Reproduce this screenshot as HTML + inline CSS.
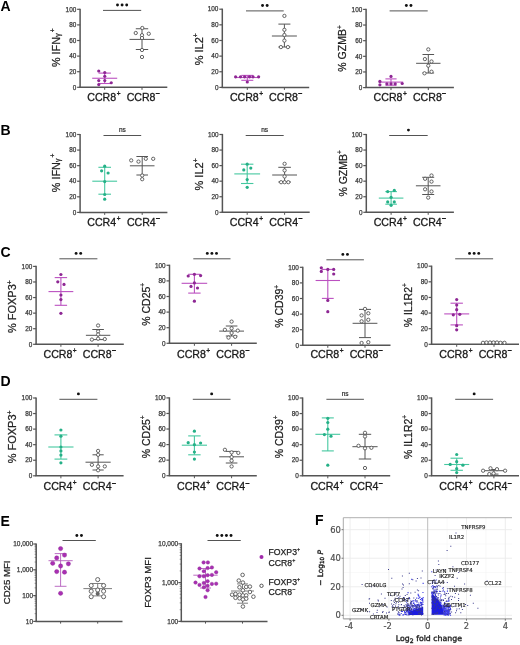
<!DOCTYPE html>
<html><head><meta charset="utf-8"><title>Figure</title>
<style>html,body{margin:0;padding:0;background:#fff;}svg{display:block;}</style>
</head><body>
<svg width="520" height="645" viewBox="0 0 520 645">
<rect width="520" height="645" fill="#fff"/>
<text x="0.6" y="11" font-size="14" text-anchor="start" fill="#000" font-weight="bold" font-family="'Liberation Sans', Arial, sans-serif" >A</text>
<text x="0.6" y="135.4" font-size="14" text-anchor="start" fill="#000" font-weight="bold" font-family="'Liberation Sans', Arial, sans-serif" >B</text>
<text x="0.6" y="257.4" font-size="14" text-anchor="start" fill="#000" font-weight="bold" font-family="'Liberation Sans', Arial, sans-serif" >C</text>
<text x="0.6" y="386.4" font-size="14" text-anchor="start" fill="#000" font-weight="bold" font-family="'Liberation Sans', Arial, sans-serif" >D</text>
<text x="0.6" y="526.4" font-size="14" text-anchor="start" fill="#000" font-weight="bold" font-family="'Liberation Sans', Arial, sans-serif" >E</text>
<text x="315" y="525.2" font-size="14" text-anchor="start" fill="#000" font-weight="bold" font-family="'Liberation Sans', Arial, sans-serif" >F</text>
<line x1="80.1" y1="8.7" x2="80.1" y2="87.3" stroke="#555555" stroke-width="1.5"/>
<line x1="79.35" y1="87.3" x2="167.3" y2="87.3" stroke="#555555" stroke-width="1.5"/>
<line x1="77.1" y1="87.3" x2="80.1" y2="87.3" stroke="#555555" stroke-width="1.2"/>
<text x="76.25" y="89.5" font-size="6.4" text-anchor="end" fill="#3a3a3a" font-weight="normal" font-family="'Liberation Sans', Arial, sans-serif" stroke="#3a3a3a" stroke-width="0.25">0</text>
<line x1="77.1" y1="71.7" x2="80.1" y2="71.7" stroke="#555555" stroke-width="1.2"/>
<text x="76.25" y="73.9" font-size="6.4" text-anchor="end" fill="#3a3a3a" font-weight="normal" font-family="'Liberation Sans', Arial, sans-serif" stroke="#3a3a3a" stroke-width="0.25">20</text>
<line x1="77.1" y1="56.1" x2="80.1" y2="56.1" stroke="#555555" stroke-width="1.2"/>
<text x="76.25" y="58.3" font-size="6.4" text-anchor="end" fill="#3a3a3a" font-weight="normal" font-family="'Liberation Sans', Arial, sans-serif" stroke="#3a3a3a" stroke-width="0.25">40</text>
<line x1="77.1" y1="40.5" x2="80.1" y2="40.5" stroke="#555555" stroke-width="1.2"/>
<text x="76.25" y="42.7" font-size="6.4" text-anchor="end" fill="#3a3a3a" font-weight="normal" font-family="'Liberation Sans', Arial, sans-serif" stroke="#3a3a3a" stroke-width="0.25">60</text>
<line x1="77.1" y1="24.9" x2="80.1" y2="24.9" stroke="#555555" stroke-width="1.2"/>
<text x="76.25" y="27.1" font-size="6.4" text-anchor="end" fill="#3a3a3a" font-weight="normal" font-family="'Liberation Sans', Arial, sans-serif" stroke="#3a3a3a" stroke-width="0.25">80</text>
<line x1="77.1" y1="9.3" x2="80.1" y2="9.3" stroke="#555555" stroke-width="1.2"/>
<text x="76.25" y="11.5" font-size="6.4" text-anchor="end" fill="#3a3a3a" font-weight="normal" font-family="'Liberation Sans', Arial, sans-serif" stroke="#3a3a3a" stroke-width="0.25">100</text>
<line x1="104.7" y1="87.3" x2="104.7" y2="89.8" stroke="#555555" stroke-width="1"/>
<line x1="142" y1="87.3" x2="142" y2="89.8" stroke="#555555" stroke-width="1"/>
<text x="103.9" y="100.6" font-size="10.6" text-anchor="middle" fill="#1a1a1a" stroke="#1a1a1a" stroke-width="0.3" font-family="'Liberation Sans', Arial, sans-serif">CCR8<tspan font-size="6.57" dx="0.5" dy="-5.0">+</tspan></text>
<text x="143.3" y="100.6" font-size="10.6" text-anchor="middle" fill="#1a1a1a" stroke="#1a1a1a" stroke-width="0.3" font-family="'Liberation Sans', Arial, sans-serif">CCR8<tspan font-size="7.53" dx="0" dy="-4.6">−</tspan></text>
<text transform="translate(60.4,47.7) rotate(-90)" font-size="10.8" text-anchor="middle" fill="#222" stroke="#222" stroke-width="0.25" font-family="'Liberation Sans', Arial, sans-serif">% IFN<tspan font-size="6.91" dx="0.2" dy="-0.3">γ</tspan><tspan font-size="6.70" dx="1.1" dy="-5.0">+</tspan></text>
<line x1="103" y1="10.4" x2="141.2" y2="10.4" stroke="#4a4a4a" stroke-width="0.95"/>
<circle cx="117.5" cy="5" r="1.45" fill="#111"/>
<circle cx="122.1" cy="5" r="1.45" fill="#111"/>
<circle cx="126.7" cy="5" r="1.45" fill="#111"/>
<line x1="104.7" y1="73.1" x2="104.7" y2="83.5" stroke="#bb50c0" stroke-width="1.1"/>
<line x1="92.2" y1="78.25" x2="117.2" y2="78.25" stroke="#bb50c0" stroke-width="1.1"/>
<line x1="98.5" y1="73.1" x2="110.9" y2="73.1" stroke="#bb50c0" stroke-width="1.1"/>
<line x1="98.5" y1="83.5" x2="110.9" y2="83.5" stroke="#bb50c0" stroke-width="1.1"/>
<line x1="142" y1="28.75" x2="142" y2="49.5" stroke="#555" stroke-width="1.0"/>
<line x1="129.5" y1="39.4" x2="154.5" y2="39.4" stroke="#555" stroke-width="1.0"/>
<line x1="135.8" y1="28.75" x2="148.2" y2="28.75" stroke="#555" stroke-width="1.0"/>
<line x1="135.8" y1="49.5" x2="148.2" y2="49.5" stroke="#555" stroke-width="1.0"/>
<circle cx="98.75" cy="71" r="1.6" fill="#8e2794"/>
<circle cx="104.75" cy="72.5" r="1.6" fill="#8e2794"/>
<circle cx="104.75" cy="76.25" r="1.6" fill="#8e2794"/>
<circle cx="98.75" cy="80.6" r="1.6" fill="#8e2794"/>
<circle cx="104.75" cy="80.6" r="1.6" fill="#8e2794"/>
<circle cx="98.75" cy="84.6" r="1.6" fill="#8e2794"/>
<circle cx="111.25" cy="82.75" r="1.6" fill="#8e2794"/>
<circle cx="142.3" cy="28" r="1.6500000000000001" fill="white" stroke="#555555" stroke-width="0.9"/>
<circle cx="135.75" cy="33" r="1.6500000000000001" fill="white" stroke="#555555" stroke-width="0.9"/>
<circle cx="142" cy="35.2" r="1.6500000000000001" fill="white" stroke="#555555" stroke-width="0.9"/>
<circle cx="148.75" cy="33.75" r="1.6500000000000001" fill="white" stroke="#555555" stroke-width="0.9"/>
<circle cx="142" cy="38" r="1.6500000000000001" fill="white" stroke="#555555" stroke-width="0.9"/>
<circle cx="142" cy="50" r="1.6500000000000001" fill="white" stroke="#555555" stroke-width="0.9"/>
<circle cx="142" cy="57" r="1.6500000000000001" fill="white" stroke="#555555" stroke-width="0.9"/>
<line x1="222.3" y1="8.6" x2="222.3" y2="87.4" stroke="#555555" stroke-width="1.5"/>
<line x1="221.55" y1="87.4" x2="309.2" y2="87.4" stroke="#555555" stroke-width="1.5"/>
<line x1="219.3" y1="87.4" x2="222.3" y2="87.4" stroke="#555555" stroke-width="1.2"/>
<text x="218.45" y="89.6" font-size="6.4" text-anchor="end" fill="#3a3a3a" font-weight="normal" font-family="'Liberation Sans', Arial, sans-serif" stroke="#3a3a3a" stroke-width="0.25">0</text>
<line x1="219.3" y1="71.76" x2="222.3" y2="71.76" stroke="#555555" stroke-width="1.2"/>
<text x="218.45" y="73.96" font-size="6.4" text-anchor="end" fill="#3a3a3a" font-weight="normal" font-family="'Liberation Sans', Arial, sans-serif" stroke="#3a3a3a" stroke-width="0.25">20</text>
<line x1="219.3" y1="56.12" x2="222.3" y2="56.12" stroke="#555555" stroke-width="1.2"/>
<text x="218.45" y="58.32" font-size="6.4" text-anchor="end" fill="#3a3a3a" font-weight="normal" font-family="'Liberation Sans', Arial, sans-serif" stroke="#3a3a3a" stroke-width="0.25">40</text>
<line x1="219.3" y1="40.48" x2="222.3" y2="40.48" stroke="#555555" stroke-width="1.2"/>
<text x="218.45" y="42.68" font-size="6.4" text-anchor="end" fill="#3a3a3a" font-weight="normal" font-family="'Liberation Sans', Arial, sans-serif" stroke="#3a3a3a" stroke-width="0.25">60</text>
<line x1="219.3" y1="24.84" x2="222.3" y2="24.84" stroke="#555555" stroke-width="1.2"/>
<text x="218.45" y="27.04" font-size="6.4" text-anchor="end" fill="#3a3a3a" font-weight="normal" font-family="'Liberation Sans', Arial, sans-serif" stroke="#3a3a3a" stroke-width="0.25">80</text>
<line x1="219.3" y1="9.2" x2="222.3" y2="9.2" stroke="#555555" stroke-width="1.2"/>
<text x="218.45" y="11.4" font-size="6.4" text-anchor="end" fill="#3a3a3a" font-weight="normal" font-family="'Liberation Sans', Arial, sans-serif" stroke="#3a3a3a" stroke-width="0.25">100</text>
<line x1="247.3" y1="87.4" x2="247.3" y2="89.9" stroke="#555555" stroke-width="1"/>
<line x1="284.4" y1="87.4" x2="284.4" y2="89.9" stroke="#555555" stroke-width="1"/>
<text x="246.5" y="100.6" font-size="10.6" text-anchor="middle" fill="#1a1a1a" stroke="#1a1a1a" stroke-width="0.3" font-family="'Liberation Sans', Arial, sans-serif">CCR8<tspan font-size="6.57" dx="0.5" dy="-5.0">+</tspan></text>
<text x="285.7" y="100.6" font-size="10.6" text-anchor="middle" fill="#1a1a1a" stroke="#1a1a1a" stroke-width="0.3" font-family="'Liberation Sans', Arial, sans-serif">CCR8<tspan font-size="7.53" dx="0" dy="-4.6">−</tspan></text>
<text transform="translate(202.6,49.3) rotate(-90)" font-size="11" text-anchor="middle" fill="#222" stroke="#222" stroke-width="0.25" font-family="'Liberation Sans', Arial, sans-serif">% IL2<tspan font-size="6.82" dy="-4.5">+</tspan></text>
<line x1="246" y1="10.9" x2="283.7" y2="10.9" stroke="#4a4a4a" stroke-width="0.95"/>
<circle cx="262.55" cy="5.5" r="1.45" fill="#111"/>
<circle cx="267.15" cy="5.5" r="1.45" fill="#111"/>
<line x1="247.3" y1="75.4" x2="247.3" y2="80.3" stroke="#bb50c0" stroke-width="1.1"/>
<line x1="234.8" y1="77.5" x2="259.8" y2="77.5" stroke="#bb50c0" stroke-width="1.1"/>
<line x1="241.3" y1="75.4" x2="253.3" y2="75.4" stroke="#bb50c0" stroke-width="1.1"/>
<line x1="241.3" y1="80.3" x2="253.3" y2="80.3" stroke="#bb50c0" stroke-width="1.1"/>
<line x1="284.4" y1="24.1" x2="284.4" y2="47" stroke="#555" stroke-width="1.0"/>
<line x1="271.9" y1="36" x2="296.9" y2="36" stroke="#555" stroke-width="1.0"/>
<line x1="278.4" y1="24.1" x2="290.4" y2="24.1" stroke="#555" stroke-width="1.0"/>
<line x1="278.4" y1="47" x2="290.4" y2="47" stroke="#555" stroke-width="1.0"/>
<circle cx="235.6" cy="76.8" r="1.6" fill="#8e2794"/>
<circle cx="240.5" cy="76.8" r="1.6" fill="#8e2794"/>
<circle cx="244.6" cy="76.8" r="1.6" fill="#8e2794"/>
<circle cx="249.5" cy="76.8" r="1.6" fill="#8e2794"/>
<circle cx="253" cy="76.8" r="1.6" fill="#8e2794"/>
<circle cx="258.6" cy="76.8" r="1.6" fill="#8e2794"/>
<circle cx="247.3" cy="82" r="1.6" fill="#8e2794"/>
<circle cx="284.4" cy="15.9" r="1.6500000000000001" fill="white" stroke="#555555" stroke-width="0.9"/>
<circle cx="284.4" cy="29.8" r="1.6500000000000001" fill="white" stroke="#555555" stroke-width="0.9"/>
<circle cx="284.4" cy="35" r="1.6500000000000001" fill="white" stroke="#555555" stroke-width="0.9"/>
<circle cx="284.4" cy="40.6" r="1.6500000000000001" fill="white" stroke="#555555" stroke-width="0.9"/>
<circle cx="280.9" cy="47.1" r="1.6500000000000001" fill="white" stroke="#555555" stroke-width="0.9"/>
<circle cx="287.9" cy="47.1" r="1.6500000000000001" fill="white" stroke="#555555" stroke-width="0.9"/>
<line x1="366.1" y1="8.8" x2="366.1" y2="87.6" stroke="#555555" stroke-width="1.5"/>
<line x1="365.35" y1="87.6" x2="453.9" y2="87.6" stroke="#555555" stroke-width="1.5"/>
<line x1="363.1" y1="87.6" x2="366.1" y2="87.6" stroke="#555555" stroke-width="1.2"/>
<text x="362.25" y="89.8" font-size="6.4" text-anchor="end" fill="#3a3a3a" font-weight="normal" font-family="'Liberation Sans', Arial, sans-serif" stroke="#3a3a3a" stroke-width="0.25">0</text>
<line x1="363.1" y1="71.96" x2="366.1" y2="71.96" stroke="#555555" stroke-width="1.2"/>
<text x="362.25" y="74.16" font-size="6.4" text-anchor="end" fill="#3a3a3a" font-weight="normal" font-family="'Liberation Sans', Arial, sans-serif" stroke="#3a3a3a" stroke-width="0.25">20</text>
<line x1="363.1" y1="56.32" x2="366.1" y2="56.32" stroke="#555555" stroke-width="1.2"/>
<text x="362.25" y="58.52" font-size="6.4" text-anchor="end" fill="#3a3a3a" font-weight="normal" font-family="'Liberation Sans', Arial, sans-serif" stroke="#3a3a3a" stroke-width="0.25">40</text>
<line x1="363.1" y1="40.68" x2="366.1" y2="40.68" stroke="#555555" stroke-width="1.2"/>
<text x="362.25" y="42.88" font-size="6.4" text-anchor="end" fill="#3a3a3a" font-weight="normal" font-family="'Liberation Sans', Arial, sans-serif" stroke="#3a3a3a" stroke-width="0.25">60</text>
<line x1="363.1" y1="25.04" x2="366.1" y2="25.04" stroke="#555555" stroke-width="1.2"/>
<text x="362.25" y="27.24" font-size="6.4" text-anchor="end" fill="#3a3a3a" font-weight="normal" font-family="'Liberation Sans', Arial, sans-serif" stroke="#3a3a3a" stroke-width="0.25">80</text>
<line x1="363.1" y1="9.4" x2="366.1" y2="9.4" stroke="#555555" stroke-width="1.2"/>
<text x="362.25" y="11.6" font-size="6.4" text-anchor="end" fill="#3a3a3a" font-weight="normal" font-family="'Liberation Sans', Arial, sans-serif" stroke="#3a3a3a" stroke-width="0.25">100</text>
<line x1="391" y1="87.6" x2="391" y2="90.1" stroke="#555555" stroke-width="1"/>
<line x1="428.3" y1="87.6" x2="428.3" y2="90.1" stroke="#555555" stroke-width="1"/>
<text x="390.2" y="100.6" font-size="10.6" text-anchor="middle" fill="#1a1a1a" stroke="#1a1a1a" stroke-width="0.3" font-family="'Liberation Sans', Arial, sans-serif">CCR8<tspan font-size="6.57" dx="0.5" dy="-5.0">+</tspan></text>
<text x="429.6" y="100.6" font-size="10.6" text-anchor="middle" fill="#1a1a1a" stroke="#1a1a1a" stroke-width="0.3" font-family="'Liberation Sans', Arial, sans-serif">CCR8<tspan font-size="7.53" dx="0" dy="-4.6">−</tspan></text>
<text transform="translate(346.4,48.5) rotate(-90)" font-size="10.5" text-anchor="middle" fill="#222" stroke="#222" stroke-width="0.25" font-family="'Liberation Sans', Arial, sans-serif">% GZMB<tspan font-size="6.51" dy="-4.5">+</tspan></text>
<line x1="389.6" y1="10.9" x2="427.7" y2="10.9" stroke="#4a4a4a" stroke-width="0.95"/>
<circle cx="406.35" cy="5.5" r="1.45" fill="#111"/>
<circle cx="410.95" cy="5.5" r="1.45" fill="#111"/>
<line x1="391" y1="78.9" x2="391" y2="85.2" stroke="#bb50c0" stroke-width="1.1"/>
<line x1="378.8" y1="82.1" x2="403.2" y2="82.1" stroke="#bb50c0" stroke-width="1.1"/>
<line x1="385.4" y1="78.9" x2="396.6" y2="78.9" stroke="#bb50c0" stroke-width="1.1"/>
<line x1="385.4" y1="85.2" x2="396.6" y2="85.2" stroke="#bb50c0" stroke-width="1.1"/>
<line x1="428.3" y1="54.5" x2="428.3" y2="73" stroke="#555" stroke-width="1.0"/>
<line x1="416.1" y1="63.3" x2="440.5" y2="63.3" stroke="#555" stroke-width="1.0"/>
<line x1="422.5" y1="54.5" x2="434.1" y2="54.5" stroke="#555" stroke-width="1.0"/>
<line x1="422.5" y1="73" x2="434.1" y2="73" stroke="#555" stroke-width="1.0"/>
<circle cx="391" cy="76.4" r="1.6" fill="#8e2794"/>
<circle cx="379.9" cy="81.4" r="1.6" fill="#8e2794"/>
<circle cx="379.9" cy="84.8" r="1.6" fill="#8e2794"/>
<circle cx="386.9" cy="83.8" r="1.6" fill="#8e2794"/>
<circle cx="391" cy="83.8" r="1.6" fill="#8e2794"/>
<circle cx="395.2" cy="83.8" r="1.6" fill="#8e2794"/>
<circle cx="402.2" cy="83.5" r="1.6" fill="#8e2794"/>
<circle cx="428.3" cy="49.4" r="1.6500000000000001" fill="white" stroke="#555555" stroke-width="0.9"/>
<circle cx="424.9" cy="59.1" r="1.6500000000000001" fill="white" stroke="#555555" stroke-width="0.9"/>
<circle cx="431.5" cy="61.5" r="1.6500000000000001" fill="white" stroke="#555555" stroke-width="0.9"/>
<circle cx="428.3" cy="65.7" r="1.6500000000000001" fill="white" stroke="#555555" stroke-width="0.9"/>
<circle cx="424.5" cy="73.3" r="1.6500000000000001" fill="white" stroke="#555555" stroke-width="0.9"/>
<circle cx="431.5" cy="71.7" r="1.6500000000000001" fill="white" stroke="#555555" stroke-width="0.9"/>
<line x1="80.1" y1="133.9" x2="80.1" y2="212.4" stroke="#555555" stroke-width="1.5"/>
<line x1="79.35" y1="212.4" x2="167.4" y2="212.4" stroke="#555555" stroke-width="1.5"/>
<line x1="77.1" y1="212.4" x2="80.1" y2="212.4" stroke="#555555" stroke-width="1.2"/>
<text x="76.25" y="214.6" font-size="6.4" text-anchor="end" fill="#3a3a3a" font-weight="normal" font-family="'Liberation Sans', Arial, sans-serif" stroke="#3a3a3a" stroke-width="0.25">0</text>
<line x1="77.1" y1="196.82" x2="80.1" y2="196.82" stroke="#555555" stroke-width="1.2"/>
<text x="76.25" y="199.02" font-size="6.4" text-anchor="end" fill="#3a3a3a" font-weight="normal" font-family="'Liberation Sans', Arial, sans-serif" stroke="#3a3a3a" stroke-width="0.25">20</text>
<line x1="77.1" y1="181.24" x2="80.1" y2="181.24" stroke="#555555" stroke-width="1.2"/>
<text x="76.25" y="183.44" font-size="6.4" text-anchor="end" fill="#3a3a3a" font-weight="normal" font-family="'Liberation Sans', Arial, sans-serif" stroke="#3a3a3a" stroke-width="0.25">40</text>
<line x1="77.1" y1="165.66" x2="80.1" y2="165.66" stroke="#555555" stroke-width="1.2"/>
<text x="76.25" y="167.86" font-size="6.4" text-anchor="end" fill="#3a3a3a" font-weight="normal" font-family="'Liberation Sans', Arial, sans-serif" stroke="#3a3a3a" stroke-width="0.25">60</text>
<line x1="77.1" y1="150.08" x2="80.1" y2="150.08" stroke="#555555" stroke-width="1.2"/>
<text x="76.25" y="152.28" font-size="6.4" text-anchor="end" fill="#3a3a3a" font-weight="normal" font-family="'Liberation Sans', Arial, sans-serif" stroke="#3a3a3a" stroke-width="0.25">80</text>
<line x1="77.1" y1="134.5" x2="80.1" y2="134.5" stroke="#555555" stroke-width="1.2"/>
<text x="76.25" y="136.7" font-size="6.4" text-anchor="end" fill="#3a3a3a" font-weight="normal" font-family="'Liberation Sans', Arial, sans-serif" stroke="#3a3a3a" stroke-width="0.25">100</text>
<line x1="104.7" y1="212.4" x2="104.7" y2="214.9" stroke="#555555" stroke-width="1"/>
<line x1="142.2" y1="212.4" x2="142.2" y2="214.9" stroke="#555555" stroke-width="1"/>
<text x="103.9" y="225.8" font-size="10.6" text-anchor="middle" fill="#1a1a1a" stroke="#1a1a1a" stroke-width="0.3" font-family="'Liberation Sans', Arial, sans-serif">CCR4<tspan font-size="6.57" dx="0.5" dy="-5.0">+</tspan></text>
<text x="143.5" y="225.8" font-size="10.6" text-anchor="middle" fill="#1a1a1a" stroke="#1a1a1a" stroke-width="0.3" font-family="'Liberation Sans', Arial, sans-serif">CCR4<tspan font-size="7.53" dx="0" dy="-4.6">−</tspan></text>
<text transform="translate(60.4,172.85) rotate(-90)" font-size="10.8" text-anchor="middle" fill="#222" stroke="#222" stroke-width="0.25" font-family="'Liberation Sans', Arial, sans-serif">% IFN<tspan font-size="6.91" dx="0.2" dy="-0.3">γ</tspan><tspan font-size="6.70" dx="1.1" dy="-5.0">+</tspan></text>
<line x1="103.5" y1="135.5" x2="141.2" y2="135.5" stroke="#4a4a4a" stroke-width="0.95"/>
<text x="122.35" y="132" font-size="6.5" text-anchor="middle" fill="#2a2a2a" font-weight="normal" font-family="'Liberation Sans', Arial, sans-serif" stroke="#2a2a2a" stroke-width="0.2">ns</text>
<line x1="104.7" y1="167.3" x2="104.7" y2="194.2" stroke="#45c8a0" stroke-width="1.1"/>
<line x1="92.3" y1="181.2" x2="117.1" y2="181.2" stroke="#45c8a0" stroke-width="1.1"/>
<line x1="98.4" y1="167.3" x2="111" y2="167.3" stroke="#45c8a0" stroke-width="1.1"/>
<line x1="98.4" y1="194.2" x2="111" y2="194.2" stroke="#45c8a0" stroke-width="1.1"/>
<line x1="142.2" y1="156.5" x2="142.2" y2="175" stroke="#555" stroke-width="1.0"/>
<line x1="129.9" y1="165.8" x2="154.5" y2="165.8" stroke="#555" stroke-width="1.0"/>
<line x1="136.4" y1="156.5" x2="148" y2="156.5" stroke="#555" stroke-width="1.0"/>
<line x1="136.4" y1="175" x2="148" y2="175" stroke="#555" stroke-width="1.0"/>
<circle cx="104.7" cy="166.2" r="1.6" fill="#25b087"/>
<circle cx="101.6" cy="170.8" r="1.6" fill="#25b087"/>
<circle cx="108.1" cy="173" r="1.6" fill="#25b087"/>
<circle cx="104.7" cy="181.6" r="1.6" fill="#25b087"/>
<circle cx="104.7" cy="194.5" r="1.6" fill="#25b087"/>
<circle cx="104.7" cy="199.2" r="1.6" fill="#25b087"/>
<circle cx="131.2" cy="160.4" r="1.6500000000000001" fill="white" stroke="#555555" stroke-width="0.9"/>
<circle cx="138.5" cy="161.6" r="1.6500000000000001" fill="white" stroke="#555555" stroke-width="0.9"/>
<circle cx="145.8" cy="158.8" r="1.6500000000000001" fill="white" stroke="#555555" stroke-width="0.9"/>
<circle cx="153.2" cy="158.8" r="1.6500000000000001" fill="white" stroke="#555555" stroke-width="0.9"/>
<circle cx="142.2" cy="175.5" r="1.6500000000000001" fill="white" stroke="#555555" stroke-width="0.9"/>
<circle cx="142.2" cy="179.2" r="1.6500000000000001" fill="white" stroke="#555555" stroke-width="0.9"/>
<line x1="222.4" y1="133.9" x2="222.4" y2="212.3" stroke="#555555" stroke-width="1.5"/>
<line x1="221.65" y1="212.3" x2="309.7" y2="212.3" stroke="#555555" stroke-width="1.5"/>
<line x1="219.4" y1="212.3" x2="222.4" y2="212.3" stroke="#555555" stroke-width="1.2"/>
<text x="218.55" y="214.5" font-size="6.4" text-anchor="end" fill="#3a3a3a" font-weight="normal" font-family="'Liberation Sans', Arial, sans-serif" stroke="#3a3a3a" stroke-width="0.25">0</text>
<line x1="219.4" y1="196.74" x2="222.4" y2="196.74" stroke="#555555" stroke-width="1.2"/>
<text x="218.55" y="198.94" font-size="6.4" text-anchor="end" fill="#3a3a3a" font-weight="normal" font-family="'Liberation Sans', Arial, sans-serif" stroke="#3a3a3a" stroke-width="0.25">20</text>
<line x1="219.4" y1="181.18" x2="222.4" y2="181.18" stroke="#555555" stroke-width="1.2"/>
<text x="218.55" y="183.38" font-size="6.4" text-anchor="end" fill="#3a3a3a" font-weight="normal" font-family="'Liberation Sans', Arial, sans-serif" stroke="#3a3a3a" stroke-width="0.25">40</text>
<line x1="219.4" y1="165.62" x2="222.4" y2="165.62" stroke="#555555" stroke-width="1.2"/>
<text x="218.55" y="167.82" font-size="6.4" text-anchor="end" fill="#3a3a3a" font-weight="normal" font-family="'Liberation Sans', Arial, sans-serif" stroke="#3a3a3a" stroke-width="0.25">60</text>
<line x1="219.4" y1="150.06" x2="222.4" y2="150.06" stroke="#555555" stroke-width="1.2"/>
<text x="218.55" y="152.26" font-size="6.4" text-anchor="end" fill="#3a3a3a" font-weight="normal" font-family="'Liberation Sans', Arial, sans-serif" stroke="#3a3a3a" stroke-width="0.25">80</text>
<line x1="219.4" y1="134.5" x2="222.4" y2="134.5" stroke="#555555" stroke-width="1.2"/>
<text x="218.55" y="136.7" font-size="6.4" text-anchor="end" fill="#3a3a3a" font-weight="normal" font-family="'Liberation Sans', Arial, sans-serif" stroke="#3a3a3a" stroke-width="0.25">100</text>
<line x1="247.2" y1="212.3" x2="247.2" y2="214.8" stroke="#555555" stroke-width="1"/>
<line x1="284.6" y1="212.3" x2="284.6" y2="214.8" stroke="#555555" stroke-width="1"/>
<text x="246.4" y="225.8" font-size="10.6" text-anchor="middle" fill="#1a1a1a" stroke="#1a1a1a" stroke-width="0.3" font-family="'Liberation Sans', Arial, sans-serif">CCR4<tspan font-size="6.57" dx="0.5" dy="-5.0">+</tspan></text>
<text x="285.9" y="225.8" font-size="10.6" text-anchor="middle" fill="#1a1a1a" stroke="#1a1a1a" stroke-width="0.3" font-family="'Liberation Sans', Arial, sans-serif">CCR4<tspan font-size="7.53" dx="0" dy="-4.6">−</tspan></text>
<text transform="translate(202.7,174.4) rotate(-90)" font-size="11" text-anchor="middle" fill="#222" stroke="#222" stroke-width="0.25" font-family="'Liberation Sans', Arial, sans-serif">% IL2<tspan font-size="6.82" dy="-4.5">+</tspan></text>
<line x1="245.7" y1="135.5" x2="283.7" y2="135.5" stroke="#4a4a4a" stroke-width="0.95"/>
<text x="264.7" y="132" font-size="6.5" text-anchor="middle" fill="#2a2a2a" font-weight="normal" font-family="'Liberation Sans', Arial, sans-serif" stroke="#2a2a2a" stroke-width="0.2">ns</text>
<line x1="247.2" y1="164.2" x2="247.2" y2="183.5" stroke="#45c8a0" stroke-width="1.1"/>
<line x1="234.3" y1="173.9" x2="260.1" y2="173.9" stroke="#45c8a0" stroke-width="1.1"/>
<line x1="241" y1="164.2" x2="253.4" y2="164.2" stroke="#45c8a0" stroke-width="1.1"/>
<line x1="241" y1="183.5" x2="253.4" y2="183.5" stroke="#45c8a0" stroke-width="1.1"/>
<line x1="284.6" y1="167.3" x2="284.6" y2="182" stroke="#555" stroke-width="1.0"/>
<line x1="272.2" y1="175" x2="297" y2="175" stroke="#555" stroke-width="1.0"/>
<line x1="278.3" y1="167.3" x2="290.9" y2="167.3" stroke="#555" stroke-width="1.0"/>
<line x1="278.3" y1="182" x2="290.9" y2="182" stroke="#555" stroke-width="1.0"/>
<circle cx="247.2" cy="164.2" r="1.6" fill="#25b087"/>
<circle cx="243.8" cy="169.9" r="1.6" fill="#25b087"/>
<circle cx="250.8" cy="168.1" r="1.6" fill="#25b087"/>
<circle cx="247.2" cy="179.6" r="1.6" fill="#25b087"/>
<circle cx="247.2" cy="187.3" r="1.6" fill="#25b087"/>
<circle cx="284.6" cy="163.8" r="1.6500000000000001" fill="white" stroke="#555555" stroke-width="0.9"/>
<circle cx="284.6" cy="170.4" r="1.6500000000000001" fill="white" stroke="#555555" stroke-width="0.9"/>
<circle cx="284.6" cy="176.5" r="1.6500000000000001" fill="white" stroke="#555555" stroke-width="0.9"/>
<circle cx="281.1" cy="182.2" r="1.6500000000000001" fill="white" stroke="#555555" stroke-width="0.9"/>
<circle cx="288.3" cy="182.2" r="1.6500000000000001" fill="white" stroke="#555555" stroke-width="0.9"/>
<circle cx="284.6" cy="182.2" r="1.6500000000000001" fill="white" stroke="#555555" stroke-width="0.9"/>
<line x1="366.3" y1="133.9" x2="366.3" y2="212.3" stroke="#555555" stroke-width="1.5"/>
<line x1="365.55" y1="212.3" x2="453.9" y2="212.3" stroke="#555555" stroke-width="1.5"/>
<line x1="363.3" y1="212.3" x2="366.3" y2="212.3" stroke="#555555" stroke-width="1.2"/>
<text x="362.45" y="214.5" font-size="6.4" text-anchor="end" fill="#3a3a3a" font-weight="normal" font-family="'Liberation Sans', Arial, sans-serif" stroke="#3a3a3a" stroke-width="0.25">0</text>
<line x1="363.3" y1="196.74" x2="366.3" y2="196.74" stroke="#555555" stroke-width="1.2"/>
<text x="362.45" y="198.94" font-size="6.4" text-anchor="end" fill="#3a3a3a" font-weight="normal" font-family="'Liberation Sans', Arial, sans-serif" stroke="#3a3a3a" stroke-width="0.25">20</text>
<line x1="363.3" y1="181.18" x2="366.3" y2="181.18" stroke="#555555" stroke-width="1.2"/>
<text x="362.45" y="183.38" font-size="6.4" text-anchor="end" fill="#3a3a3a" font-weight="normal" font-family="'Liberation Sans', Arial, sans-serif" stroke="#3a3a3a" stroke-width="0.25">40</text>
<line x1="363.3" y1="165.62" x2="366.3" y2="165.62" stroke="#555555" stroke-width="1.2"/>
<text x="362.45" y="167.82" font-size="6.4" text-anchor="end" fill="#3a3a3a" font-weight="normal" font-family="'Liberation Sans', Arial, sans-serif" stroke="#3a3a3a" stroke-width="0.25">60</text>
<line x1="363.3" y1="150.06" x2="366.3" y2="150.06" stroke="#555555" stroke-width="1.2"/>
<text x="362.45" y="152.26" font-size="6.4" text-anchor="end" fill="#3a3a3a" font-weight="normal" font-family="'Liberation Sans', Arial, sans-serif" stroke="#3a3a3a" stroke-width="0.25">80</text>
<line x1="363.3" y1="134.5" x2="366.3" y2="134.5" stroke="#555555" stroke-width="1.2"/>
<text x="362.45" y="136.7" font-size="6.4" text-anchor="end" fill="#3a3a3a" font-weight="normal" font-family="'Liberation Sans', Arial, sans-serif" stroke="#3a3a3a" stroke-width="0.25">100</text>
<line x1="391.1" y1="212.3" x2="391.1" y2="214.8" stroke="#555555" stroke-width="1"/>
<line x1="428.2" y1="212.3" x2="428.2" y2="214.8" stroke="#555555" stroke-width="1"/>
<text x="390.3" y="225.8" font-size="10.6" text-anchor="middle" fill="#1a1a1a" stroke="#1a1a1a" stroke-width="0.3" font-family="'Liberation Sans', Arial, sans-serif">CCR4<tspan font-size="6.57" dx="0.5" dy="-5.0">+</tspan></text>
<text x="429.5" y="225.8" font-size="10.6" text-anchor="middle" fill="#1a1a1a" stroke="#1a1a1a" stroke-width="0.3" font-family="'Liberation Sans', Arial, sans-serif">CCR4<tspan font-size="7.53" dx="0" dy="-4.6">−</tspan></text>
<text transform="translate(346.6,173.4) rotate(-90)" font-size="10.5" text-anchor="middle" fill="#222" stroke="#222" stroke-width="0.25" font-family="'Liberation Sans', Arial, sans-serif">% GZMB<tspan font-size="6.51" dy="-4.5">+</tspan></text>
<line x1="389.2" y1="135.5" x2="427.7" y2="135.5" stroke="#4a4a4a" stroke-width="0.95"/>
<circle cx="408.45" cy="130.1" r="1.45" fill="#111"/>
<line x1="391.1" y1="191.6" x2="391.1" y2="204.2" stroke="#45c8a0" stroke-width="1.1"/>
<line x1="378.8" y1="198.1" x2="403.4" y2="198.1" stroke="#45c8a0" stroke-width="1.1"/>
<line x1="385.3" y1="191.6" x2="396.9" y2="191.6" stroke="#45c8a0" stroke-width="1.1"/>
<line x1="385.3" y1="204.2" x2="396.9" y2="204.2" stroke="#45c8a0" stroke-width="1.1"/>
<line x1="428.2" y1="177.3" x2="428.2" y2="194.5" stroke="#555" stroke-width="1.0"/>
<line x1="415.9" y1="185.8" x2="440.5" y2="185.8" stroke="#555" stroke-width="1.0"/>
<line x1="422.2" y1="177.3" x2="434.2" y2="177.3" stroke="#555" stroke-width="1.0"/>
<line x1="422.2" y1="194.5" x2="434.2" y2="194.5" stroke="#555" stroke-width="1.0"/>
<circle cx="387.7" cy="191.6" r="1.6" fill="#25b087"/>
<circle cx="394.3" cy="190.4" r="1.6" fill="#25b087"/>
<circle cx="391.1" cy="197.3" r="1.6" fill="#25b087"/>
<circle cx="387.7" cy="201.9" r="1.6" fill="#25b087"/>
<circle cx="394.3" cy="201.9" r="1.6" fill="#25b087"/>
<circle cx="391.1" cy="205.3" r="1.6" fill="#25b087"/>
<circle cx="431.5" cy="175.5" r="1.6500000000000001" fill="white" stroke="#555555" stroke-width="0.9"/>
<circle cx="425.1" cy="178.8" r="1.6500000000000001" fill="white" stroke="#555555" stroke-width="0.9"/>
<circle cx="431.5" cy="181.6" r="1.6500000000000001" fill="white" stroke="#555555" stroke-width="0.9"/>
<circle cx="425.1" cy="189.3" r="1.6500000000000001" fill="white" stroke="#555555" stroke-width="0.9"/>
<circle cx="431.5" cy="191.5" r="1.6500000000000001" fill="white" stroke="#555555" stroke-width="0.9"/>
<circle cx="428.2" cy="197.6" r="1.6500000000000001" fill="white" stroke="#555555" stroke-width="0.9"/>
<line x1="36.1" y1="265.8" x2="36.1" y2="344.3" stroke="#555555" stroke-width="1.5"/>
<line x1="35.35" y1="344.3" x2="123.8" y2="344.3" stroke="#555555" stroke-width="1.5"/>
<line x1="33.1" y1="344.3" x2="36.1" y2="344.3" stroke="#555555" stroke-width="1.2"/>
<text x="32.25" y="346.5" font-size="6.4" text-anchor="end" fill="#3a3a3a" font-weight="normal" font-family="'Liberation Sans', Arial, sans-serif" stroke="#3a3a3a" stroke-width="0.25">0</text>
<line x1="33.1" y1="328.72" x2="36.1" y2="328.72" stroke="#555555" stroke-width="1.2"/>
<text x="32.25" y="330.92" font-size="6.4" text-anchor="end" fill="#3a3a3a" font-weight="normal" font-family="'Liberation Sans', Arial, sans-serif" stroke="#3a3a3a" stroke-width="0.25">20</text>
<line x1="33.1" y1="313.14" x2="36.1" y2="313.14" stroke="#555555" stroke-width="1.2"/>
<text x="32.25" y="315.34" font-size="6.4" text-anchor="end" fill="#3a3a3a" font-weight="normal" font-family="'Liberation Sans', Arial, sans-serif" stroke="#3a3a3a" stroke-width="0.25">40</text>
<line x1="33.1" y1="297.56" x2="36.1" y2="297.56" stroke="#555555" stroke-width="1.2"/>
<text x="32.25" y="299.76" font-size="6.4" text-anchor="end" fill="#3a3a3a" font-weight="normal" font-family="'Liberation Sans', Arial, sans-serif" stroke="#3a3a3a" stroke-width="0.25">60</text>
<line x1="33.1" y1="281.98" x2="36.1" y2="281.98" stroke="#555555" stroke-width="1.2"/>
<text x="32.25" y="284.18" font-size="6.4" text-anchor="end" fill="#3a3a3a" font-weight="normal" font-family="'Liberation Sans', Arial, sans-serif" stroke="#3a3a3a" stroke-width="0.25">80</text>
<line x1="33.1" y1="266.4" x2="36.1" y2="266.4" stroke="#555555" stroke-width="1.2"/>
<text x="32.25" y="268.6" font-size="6.4" text-anchor="end" fill="#3a3a3a" font-weight="normal" font-family="'Liberation Sans', Arial, sans-serif" stroke="#3a3a3a" stroke-width="0.25">100</text>
<line x1="60.9" y1="344.3" x2="60.9" y2="346.8" stroke="#555555" stroke-width="1"/>
<line x1="98.1" y1="344.3" x2="98.1" y2="346.8" stroke="#555555" stroke-width="1"/>
<text x="60.1" y="357.9" font-size="10.6" text-anchor="middle" fill="#1a1a1a" stroke="#1a1a1a" stroke-width="0.3" font-family="'Liberation Sans', Arial, sans-serif">CCR8<tspan font-size="6.57" dx="0.5" dy="-5.0">+</tspan></text>
<text x="99.4" y="357.9" font-size="10.6" text-anchor="middle" fill="#1a1a1a" stroke="#1a1a1a" stroke-width="0.3" font-family="'Liberation Sans', Arial, sans-serif">CCR8<tspan font-size="7.53" dx="0" dy="-4.6">−</tspan></text>
<text transform="translate(16.4,306.65) rotate(-90)" font-size="11" text-anchor="middle" fill="#222" stroke="#222" stroke-width="0.25" font-family="'Liberation Sans', Arial, sans-serif">% FOXP3<tspan font-size="6.82" dy="-4.5">+</tspan></text>
<line x1="59.4" y1="258.8" x2="97.4" y2="258.8" stroke="#4a4a4a" stroke-width="0.95"/>
<circle cx="76.1" cy="253.4" r="1.45" fill="#111"/>
<circle cx="80.7" cy="253.4" r="1.45" fill="#111"/>
<line x1="60.9" y1="277.6" x2="60.9" y2="305.3" stroke="#bb50c0" stroke-width="1.1"/>
<line x1="48.5" y1="291.6" x2="73.3" y2="291.6" stroke="#bb50c0" stroke-width="1.1"/>
<line x1="54.7" y1="277.6" x2="67.1" y2="277.6" stroke="#bb50c0" stroke-width="1.1"/>
<line x1="54.7" y1="305.3" x2="67.1" y2="305.3" stroke="#bb50c0" stroke-width="1.1"/>
<line x1="98.1" y1="329.5" x2="98.1" y2="339.6" stroke="#555" stroke-width="1.0"/>
<line x1="85.9" y1="335.3" x2="110.3" y2="335.3" stroke="#555" stroke-width="1.0"/>
<line x1="92.3" y1="329.5" x2="103.9" y2="329.5" stroke="#555" stroke-width="1.0"/>
<line x1="92.3" y1="339.6" x2="103.9" y2="339.6" stroke="#555" stroke-width="1.0"/>
<circle cx="60.9" cy="274.5" r="1.6" fill="#8e2794"/>
<circle cx="57.8" cy="281.8" r="1.6" fill="#8e2794"/>
<circle cx="64" cy="284.4" r="1.6" fill="#8e2794"/>
<circle cx="60.9" cy="295" r="1.6" fill="#8e2794"/>
<circle cx="60.9" cy="299.6" r="1.6" fill="#8e2794"/>
<circle cx="60.9" cy="313.3" r="1.6" fill="#8e2794"/>
<circle cx="98.1" cy="325.5" r="1.6500000000000001" fill="white" stroke="#555555" stroke-width="0.9"/>
<circle cx="98.1" cy="331.4" r="1.6500000000000001" fill="white" stroke="#555555" stroke-width="0.9"/>
<circle cx="98.1" cy="334.5" r="1.6500000000000001" fill="white" stroke="#555555" stroke-width="0.9"/>
<circle cx="91.9" cy="339.6" r="1.6500000000000001" fill="white" stroke="#555555" stroke-width="0.9"/>
<circle cx="98.1" cy="338.7" r="1.6500000000000001" fill="white" stroke="#555555" stroke-width="0.9"/>
<circle cx="104.8" cy="339.1" r="1.6500000000000001" fill="white" stroke="#555555" stroke-width="0.9"/>
<line x1="169.5" y1="264.7" x2="169.5" y2="343.3" stroke="#555555" stroke-width="1.5"/>
<line x1="168.75" y1="343.3" x2="256.8" y2="343.3" stroke="#555555" stroke-width="1.5"/>
<line x1="166.5" y1="343.3" x2="169.5" y2="343.3" stroke="#555555" stroke-width="1.2"/>
<text x="165.65" y="345.5" font-size="6.4" text-anchor="end" fill="#3a3a3a" font-weight="normal" font-family="'Liberation Sans', Arial, sans-serif" stroke="#3a3a3a" stroke-width="0.25">0</text>
<line x1="166.5" y1="327.7" x2="169.5" y2="327.7" stroke="#555555" stroke-width="1.2"/>
<text x="165.65" y="329.9" font-size="6.4" text-anchor="end" fill="#3a3a3a" font-weight="normal" font-family="'Liberation Sans', Arial, sans-serif" stroke="#3a3a3a" stroke-width="0.25">20</text>
<line x1="166.5" y1="312.1" x2="169.5" y2="312.1" stroke="#555555" stroke-width="1.2"/>
<text x="165.65" y="314.3" font-size="6.4" text-anchor="end" fill="#3a3a3a" font-weight="normal" font-family="'Liberation Sans', Arial, sans-serif" stroke="#3a3a3a" stroke-width="0.25">40</text>
<line x1="166.5" y1="296.5" x2="169.5" y2="296.5" stroke="#555555" stroke-width="1.2"/>
<text x="165.65" y="298.7" font-size="6.4" text-anchor="end" fill="#3a3a3a" font-weight="normal" font-family="'Liberation Sans', Arial, sans-serif" stroke="#3a3a3a" stroke-width="0.25">60</text>
<line x1="166.5" y1="280.9" x2="169.5" y2="280.9" stroke="#555555" stroke-width="1.2"/>
<text x="165.65" y="283.1" font-size="6.4" text-anchor="end" fill="#3a3a3a" font-weight="normal" font-family="'Liberation Sans', Arial, sans-serif" stroke="#3a3a3a" stroke-width="0.25">80</text>
<line x1="166.5" y1="265.3" x2="169.5" y2="265.3" stroke="#555555" stroke-width="1.2"/>
<text x="165.65" y="267.5" font-size="6.4" text-anchor="end" fill="#3a3a3a" font-weight="normal" font-family="'Liberation Sans', Arial, sans-serif" stroke="#3a3a3a" stroke-width="0.25">100</text>
<line x1="194.4" y1="343.3" x2="194.4" y2="345.8" stroke="#555555" stroke-width="1"/>
<line x1="231.6" y1="343.3" x2="231.6" y2="345.8" stroke="#555555" stroke-width="1"/>
<text x="193.6" y="357.9" font-size="10.6" text-anchor="middle" fill="#1a1a1a" stroke="#1a1a1a" stroke-width="0.3" font-family="'Liberation Sans', Arial, sans-serif">CCR8<tspan font-size="6.57" dx="0.5" dy="-5.0">+</tspan></text>
<text x="232.9" y="357.9" font-size="10.6" text-anchor="middle" fill="#1a1a1a" stroke="#1a1a1a" stroke-width="0.3" font-family="'Liberation Sans', Arial, sans-serif">CCR8<tspan font-size="7.53" dx="0" dy="-4.6">−</tspan></text>
<text transform="translate(149.8,304.3) rotate(-90)" font-size="10.5" text-anchor="middle" fill="#222" stroke="#222" stroke-width="0.25" font-family="'Liberation Sans', Arial, sans-serif">% CD25<tspan font-size="6.51" dy="-4.5">+</tspan></text>
<line x1="193.3" y1="258.8" x2="230.5" y2="258.8" stroke="#4a4a4a" stroke-width="0.95"/>
<circle cx="207.3" cy="253.4" r="1.45" fill="#111"/>
<circle cx="211.9" cy="253.4" r="1.45" fill="#111"/>
<circle cx="216.5" cy="253.4" r="1.45" fill="#111"/>
<line x1="194.4" y1="274.3" x2="194.4" y2="293.1" stroke="#bb50c0" stroke-width="1.1"/>
<line x1="181.6" y1="283.3" x2="207.2" y2="283.3" stroke="#bb50c0" stroke-width="1.1"/>
<line x1="188.2" y1="274.3" x2="200.6" y2="274.3" stroke="#bb50c0" stroke-width="1.1"/>
<line x1="188.2" y1="293.1" x2="200.6" y2="293.1" stroke="#bb50c0" stroke-width="1.1"/>
<line x1="231.6" y1="326" x2="231.6" y2="336" stroke="#555" stroke-width="1.0"/>
<line x1="219.2" y1="331.1" x2="244" y2="331.1" stroke="#555" stroke-width="1.0"/>
<line x1="225.8" y1="326" x2="237.4" y2="326" stroke="#555" stroke-width="1.0"/>
<line x1="225.8" y1="336" x2="237.4" y2="336" stroke="#555" stroke-width="1.0"/>
<circle cx="188.2" cy="276" r="1.6" fill="#8e2794"/>
<circle cx="194.4" cy="274.3" r="1.6" fill="#8e2794"/>
<circle cx="200.6" cy="275.6" r="1.6" fill="#8e2794"/>
<circle cx="194.4" cy="282.9" r="1.6" fill="#8e2794"/>
<circle cx="191" cy="286.4" r="1.6" fill="#8e2794"/>
<circle cx="197.5" cy="288" r="1.6" fill="#8e2794"/>
<circle cx="194.4" cy="301.2" r="1.6" fill="#8e2794"/>
<circle cx="231.6" cy="321.6" r="1.6500000000000001" fill="white" stroke="#555555" stroke-width="0.9"/>
<circle cx="231.6" cy="328.3" r="1.6500000000000001" fill="white" stroke="#555555" stroke-width="0.9"/>
<circle cx="224.9" cy="329.8" r="1.6500000000000001" fill="white" stroke="#555555" stroke-width="0.9"/>
<circle cx="237.8" cy="330.6" r="1.6500000000000001" fill="white" stroke="#555555" stroke-width="0.9"/>
<circle cx="231.6" cy="333" r="1.6500000000000001" fill="white" stroke="#555555" stroke-width="0.9"/>
<circle cx="228.5" cy="337.6" r="1.6500000000000001" fill="white" stroke="#555555" stroke-width="0.9"/>
<circle cx="235.2" cy="336.8" r="1.6500000000000001" fill="white" stroke="#555555" stroke-width="0.9"/>
<line x1="302.8" y1="266.7" x2="302.8" y2="345.3" stroke="#555555" stroke-width="1.5"/>
<line x1="302.05" y1="345.3" x2="390.5" y2="345.3" stroke="#555555" stroke-width="1.5"/>
<line x1="299.8" y1="345.3" x2="302.8" y2="345.3" stroke="#555555" stroke-width="1.2"/>
<text x="298.95" y="347.5" font-size="6.4" text-anchor="end" fill="#3a3a3a" font-weight="normal" font-family="'Liberation Sans', Arial, sans-serif" stroke="#3a3a3a" stroke-width="0.25">0</text>
<line x1="299.8" y1="329.7" x2="302.8" y2="329.7" stroke="#555555" stroke-width="1.2"/>
<text x="298.95" y="331.9" font-size="6.4" text-anchor="end" fill="#3a3a3a" font-weight="normal" font-family="'Liberation Sans', Arial, sans-serif" stroke="#3a3a3a" stroke-width="0.25">20</text>
<line x1="299.8" y1="314.1" x2="302.8" y2="314.1" stroke="#555555" stroke-width="1.2"/>
<text x="298.95" y="316.3" font-size="6.4" text-anchor="end" fill="#3a3a3a" font-weight="normal" font-family="'Liberation Sans', Arial, sans-serif" stroke="#3a3a3a" stroke-width="0.25">40</text>
<line x1="299.8" y1="298.5" x2="302.8" y2="298.5" stroke="#555555" stroke-width="1.2"/>
<text x="298.95" y="300.7" font-size="6.4" text-anchor="end" fill="#3a3a3a" font-weight="normal" font-family="'Liberation Sans', Arial, sans-serif" stroke="#3a3a3a" stroke-width="0.25">60</text>
<line x1="299.8" y1="282.9" x2="302.8" y2="282.9" stroke="#555555" stroke-width="1.2"/>
<text x="298.95" y="285.1" font-size="6.4" text-anchor="end" fill="#3a3a3a" font-weight="normal" font-family="'Liberation Sans', Arial, sans-serif" stroke="#3a3a3a" stroke-width="0.25">80</text>
<line x1="299.8" y1="267.3" x2="302.8" y2="267.3" stroke="#555555" stroke-width="1.2"/>
<text x="298.95" y="269.5" font-size="6.4" text-anchor="end" fill="#3a3a3a" font-weight="normal" font-family="'Liberation Sans', Arial, sans-serif" stroke="#3a3a3a" stroke-width="0.25">100</text>
<line x1="327.8" y1="345.3" x2="327.8" y2="347.8" stroke="#555555" stroke-width="1"/>
<line x1="365" y1="345.3" x2="365" y2="347.8" stroke="#555555" stroke-width="1"/>
<text x="327" y="357.9" font-size="10.6" text-anchor="middle" fill="#1a1a1a" stroke="#1a1a1a" stroke-width="0.3" font-family="'Liberation Sans', Arial, sans-serif">CCR8<tspan font-size="6.57" dx="0.5" dy="-5.0">+</tspan></text>
<text x="366.3" y="357.9" font-size="10.6" text-anchor="middle" fill="#1a1a1a" stroke="#1a1a1a" stroke-width="0.3" font-family="'Liberation Sans', Arial, sans-serif">CCR8<tspan font-size="7.53" dx="0" dy="-4.6">−</tspan></text>
<text transform="translate(283.1,306.3) rotate(-90)" font-size="10.5" text-anchor="middle" fill="#222" stroke="#222" stroke-width="0.25" font-family="'Liberation Sans', Arial, sans-serif">% CD39<tspan font-size="6.51" dy="-4.5">+</tspan></text>
<line x1="326.4" y1="259.8" x2="363.9" y2="259.8" stroke="#4a4a4a" stroke-width="0.95"/>
<circle cx="342.85" cy="254.4" r="1.45" fill="#111"/>
<circle cx="347.45" cy="254.4" r="1.45" fill="#111"/>
<line x1="327.8" y1="269.4" x2="327.8" y2="298.4" stroke="#bb50c0" stroke-width="1.1"/>
<line x1="315.6" y1="280.5" x2="340" y2="280.5" stroke="#bb50c0" stroke-width="1.1"/>
<line x1="321.9" y1="269.4" x2="333.7" y2="269.4" stroke="#bb50c0" stroke-width="1.1"/>
<line x1="321.9" y1="298.4" x2="333.7" y2="298.4" stroke="#bb50c0" stroke-width="1.1"/>
<line x1="365" y1="309.4" x2="365" y2="337.6" stroke="#555" stroke-width="1.0"/>
<line x1="352.6" y1="323.3" x2="377.4" y2="323.3" stroke="#555" stroke-width="1.0"/>
<line x1="359" y1="309.4" x2="371" y2="309.4" stroke="#555" stroke-width="1.0"/>
<line x1="359" y1="337.6" x2="371" y2="337.6" stroke="#555" stroke-width="1.0"/>
<circle cx="321.3" cy="267.8" r="1.6" fill="#8e2794"/>
<circle cx="321.3" cy="271.4" r="1.6" fill="#8e2794"/>
<circle cx="327.8" cy="269.4" r="1.6" fill="#8e2794"/>
<circle cx="333.7" cy="269.4" r="1.6" fill="#8e2794"/>
<circle cx="333.7" cy="274" r="1.6" fill="#8e2794"/>
<circle cx="327.8" cy="300.4" r="1.6" fill="#8e2794"/>
<circle cx="327.8" cy="311.7" r="1.6" fill="#8e2794"/>
<circle cx="365" cy="308.9" r="1.6500000000000001" fill="white" stroke="#555555" stroke-width="0.9"/>
<circle cx="368.3" cy="313.3" r="1.6500000000000001" fill="white" stroke="#555555" stroke-width="0.9"/>
<circle cx="361.6" cy="315.4" r="1.6500000000000001" fill="white" stroke="#555555" stroke-width="0.9"/>
<circle cx="368.3" cy="319.8" r="1.6500000000000001" fill="white" stroke="#555555" stroke-width="0.9"/>
<circle cx="361.6" cy="321.3" r="1.6500000000000001" fill="white" stroke="#555555" stroke-width="0.9"/>
<circle cx="361.6" cy="343" r="1.6500000000000001" fill="white" stroke="#555555" stroke-width="0.9"/>
<circle cx="368.3" cy="342.2" r="1.6500000000000001" fill="white" stroke="#555555" stroke-width="0.9"/>
<line x1="431.6" y1="265.6" x2="431.6" y2="344.3" stroke="#555555" stroke-width="1.5"/>
<line x1="430.85" y1="344.3" x2="519" y2="344.3" stroke="#555555" stroke-width="1.5"/>
<line x1="428.6" y1="344.3" x2="431.6" y2="344.3" stroke="#555555" stroke-width="1.2"/>
<text x="427.75" y="346.5" font-size="6.4" text-anchor="end" fill="#3a3a3a" font-weight="normal" font-family="'Liberation Sans', Arial, sans-serif" stroke="#3a3a3a" stroke-width="0.25">0</text>
<line x1="428.6" y1="328.68" x2="431.6" y2="328.68" stroke="#555555" stroke-width="1.2"/>
<text x="427.75" y="330.88" font-size="6.4" text-anchor="end" fill="#3a3a3a" font-weight="normal" font-family="'Liberation Sans', Arial, sans-serif" stroke="#3a3a3a" stroke-width="0.25">20</text>
<line x1="428.6" y1="313.06" x2="431.6" y2="313.06" stroke="#555555" stroke-width="1.2"/>
<text x="427.75" y="315.26" font-size="6.4" text-anchor="end" fill="#3a3a3a" font-weight="normal" font-family="'Liberation Sans', Arial, sans-serif" stroke="#3a3a3a" stroke-width="0.25">40</text>
<line x1="428.6" y1="297.44" x2="431.6" y2="297.44" stroke="#555555" stroke-width="1.2"/>
<text x="427.75" y="299.64" font-size="6.4" text-anchor="end" fill="#3a3a3a" font-weight="normal" font-family="'Liberation Sans', Arial, sans-serif" stroke="#3a3a3a" stroke-width="0.25">60</text>
<line x1="428.6" y1="281.82" x2="431.6" y2="281.82" stroke="#555555" stroke-width="1.2"/>
<text x="427.75" y="284.02" font-size="6.4" text-anchor="end" fill="#3a3a3a" font-weight="normal" font-family="'Liberation Sans', Arial, sans-serif" stroke="#3a3a3a" stroke-width="0.25">80</text>
<line x1="428.6" y1="266.2" x2="431.6" y2="266.2" stroke="#555555" stroke-width="1.2"/>
<text x="427.75" y="268.4" font-size="6.4" text-anchor="end" fill="#3a3a3a" font-weight="normal" font-family="'Liberation Sans', Arial, sans-serif" stroke="#3a3a3a" stroke-width="0.25">100</text>
<line x1="456.7" y1="344.3" x2="456.7" y2="346.8" stroke="#555555" stroke-width="1"/>
<line x1="494" y1="344.3" x2="494" y2="346.8" stroke="#555555" stroke-width="1"/>
<text x="455.9" y="357.9" font-size="10.6" text-anchor="middle" fill="#1a1a1a" stroke="#1a1a1a" stroke-width="0.3" font-family="'Liberation Sans', Arial, sans-serif">CCR8<tspan font-size="6.57" dx="0.5" dy="-5.0">+</tspan></text>
<text x="495.3" y="357.9" font-size="10.6" text-anchor="middle" fill="#1a1a1a" stroke="#1a1a1a" stroke-width="0.3" font-family="'Liberation Sans', Arial, sans-serif">CCR8<tspan font-size="7.53" dx="0" dy="-4.6">−</tspan></text>
<text transform="translate(411.9,305.25) rotate(-90)" font-size="10.5" text-anchor="middle" fill="#222" stroke="#222" stroke-width="0.25" font-family="'Liberation Sans', Arial, sans-serif">% IL1R2<tspan font-size="6.51" dy="-4.5">+</tspan></text>
<line x1="455.2" y1="258.8" x2="493.1" y2="258.8" stroke="#4a4a4a" stroke-width="0.95"/>
<circle cx="469.55" cy="253.4" r="1.45" fill="#111"/>
<circle cx="474.15" cy="253.4" r="1.45" fill="#111"/>
<circle cx="478.75" cy="253.4" r="1.45" fill="#111"/>
<line x1="456.7" y1="303.2" x2="456.7" y2="324.9" stroke="#bb50c0" stroke-width="1.1"/>
<line x1="444.2" y1="313.9" x2="469.2" y2="313.9" stroke="#bb50c0" stroke-width="1.1"/>
<line x1="450.5" y1="303.2" x2="462.9" y2="303.2" stroke="#bb50c0" stroke-width="1.1"/>
<line x1="450.5" y1="324.9" x2="462.9" y2="324.9" stroke="#bb50c0" stroke-width="1.1"/>
<line x1="494" y1="341.8" x2="494" y2="343" stroke="#555" stroke-width="1.0"/>
<line x1="482.5" y1="342.3" x2="505.5" y2="342.3" stroke="#555" stroke-width="1.0"/>
<line x1="490" y1="341.8" x2="498" y2="341.8" stroke="#555" stroke-width="1.0"/>
<line x1="490" y1="343" x2="498" y2="343" stroke="#555" stroke-width="1.0"/>
<circle cx="456.7" cy="299.6" r="1.6" fill="#8e2794"/>
<circle cx="456.7" cy="305" r="1.6" fill="#8e2794"/>
<circle cx="456.7" cy="309.7" r="1.6" fill="#8e2794"/>
<circle cx="453.3" cy="314.8" r="1.6" fill="#8e2794"/>
<circle cx="459.8" cy="314.3" r="1.6" fill="#8e2794"/>
<circle cx="456.7" cy="325.7" r="1.6" fill="#8e2794"/>
<circle cx="456.7" cy="329.8" r="1.6" fill="#8e2794"/>
<circle cx="483" cy="342.8" r="1.6500000000000001" fill="white" stroke="#555555" stroke-width="0.9"/>
<circle cx="486.5" cy="342.5" r="1.6500000000000001" fill="white" stroke="#555555" stroke-width="0.9"/>
<circle cx="490" cy="342.5" r="1.6500000000000001" fill="white" stroke="#555555" stroke-width="0.9"/>
<circle cx="493.5" cy="342.5" r="1.6500000000000001" fill="white" stroke="#555555" stroke-width="0.9"/>
<circle cx="497" cy="342.5" r="1.6500000000000001" fill="white" stroke="#555555" stroke-width="0.9"/>
<circle cx="500.5" cy="342.8" r="1.6500000000000001" fill="white" stroke="#555555" stroke-width="0.9"/>
<circle cx="504.5" cy="342.8" r="1.6500000000000001" fill="white" stroke="#555555" stroke-width="0.9"/>
<line x1="36.1" y1="397.4" x2="36.1" y2="475.8" stroke="#555555" stroke-width="1.5"/>
<line x1="35.35" y1="475.8" x2="123.6" y2="475.8" stroke="#555555" stroke-width="1.5"/>
<line x1="33.1" y1="475.8" x2="36.1" y2="475.8" stroke="#555555" stroke-width="1.2"/>
<text x="32.25" y="478" font-size="6.4" text-anchor="end" fill="#3a3a3a" font-weight="normal" font-family="'Liberation Sans', Arial, sans-serif" stroke="#3a3a3a" stroke-width="0.25">0</text>
<line x1="33.1" y1="460.24" x2="36.1" y2="460.24" stroke="#555555" stroke-width="1.2"/>
<text x="32.25" y="462.44" font-size="6.4" text-anchor="end" fill="#3a3a3a" font-weight="normal" font-family="'Liberation Sans', Arial, sans-serif" stroke="#3a3a3a" stroke-width="0.25">20</text>
<line x1="33.1" y1="444.68" x2="36.1" y2="444.68" stroke="#555555" stroke-width="1.2"/>
<text x="32.25" y="446.88" font-size="6.4" text-anchor="end" fill="#3a3a3a" font-weight="normal" font-family="'Liberation Sans', Arial, sans-serif" stroke="#3a3a3a" stroke-width="0.25">40</text>
<line x1="33.1" y1="429.12" x2="36.1" y2="429.12" stroke="#555555" stroke-width="1.2"/>
<text x="32.25" y="431.32" font-size="6.4" text-anchor="end" fill="#3a3a3a" font-weight="normal" font-family="'Liberation Sans', Arial, sans-serif" stroke="#3a3a3a" stroke-width="0.25">60</text>
<line x1="33.1" y1="413.56" x2="36.1" y2="413.56" stroke="#555555" stroke-width="1.2"/>
<text x="32.25" y="415.76" font-size="6.4" text-anchor="end" fill="#3a3a3a" font-weight="normal" font-family="'Liberation Sans', Arial, sans-serif" stroke="#3a3a3a" stroke-width="0.25">80</text>
<line x1="33.1" y1="398" x2="36.1" y2="398" stroke="#555555" stroke-width="1.2"/>
<text x="32.25" y="400.2" font-size="6.4" text-anchor="end" fill="#3a3a3a" font-weight="normal" font-family="'Liberation Sans', Arial, sans-serif" stroke="#3a3a3a" stroke-width="0.25">100</text>
<line x1="60.9" y1="475.8" x2="60.9" y2="478.3" stroke="#555555" stroke-width="1"/>
<line x1="98.1" y1="475.8" x2="98.1" y2="478.3" stroke="#555555" stroke-width="1"/>
<text x="60.1" y="490.4" font-size="10.6" text-anchor="middle" fill="#1a1a1a" stroke="#1a1a1a" stroke-width="0.3" font-family="'Liberation Sans', Arial, sans-serif">CCR4<tspan font-size="6.57" dx="0.5" dy="-5.0">+</tspan></text>
<text x="99.4" y="490.4" font-size="10.6" text-anchor="middle" fill="#1a1a1a" stroke="#1a1a1a" stroke-width="0.3" font-family="'Liberation Sans', Arial, sans-serif">CCR4<tspan font-size="7.53" dx="0" dy="-4.6">−</tspan></text>
<text transform="translate(16.4,436.9) rotate(-90)" font-size="11" text-anchor="middle" fill="#222" stroke="#222" stroke-width="0.25" font-family="'Liberation Sans', Arial, sans-serif">% FOXP3<tspan font-size="6.82" dy="-4.5">+</tspan></text>
<line x1="59.4" y1="399.3" x2="97.4" y2="399.3" stroke="#4a4a4a" stroke-width="0.95"/>
<circle cx="78.4" cy="393.9" r="1.45" fill="#111"/>
<line x1="60.9" y1="434.9" x2="60.9" y2="459.1" stroke="#45c8a0" stroke-width="1.1"/>
<line x1="48.3" y1="447" x2="73.5" y2="447" stroke="#45c8a0" stroke-width="1.1"/>
<line x1="54.5" y1="434.9" x2="67.3" y2="434.9" stroke="#45c8a0" stroke-width="1.1"/>
<line x1="54.5" y1="459.1" x2="67.3" y2="459.1" stroke="#45c8a0" stroke-width="1.1"/>
<line x1="98.1" y1="454.8" x2="98.1" y2="470" stroke="#555" stroke-width="1.0"/>
<line x1="85.5" y1="462.2" x2="110.7" y2="462.2" stroke="#555" stroke-width="1.0"/>
<line x1="92.5" y1="454.8" x2="103.7" y2="454.8" stroke="#555" stroke-width="1.0"/>
<line x1="92.5" y1="470" x2="103.7" y2="470" stroke="#555" stroke-width="1.0"/>
<circle cx="60.9" cy="430" r="1.6" fill="#25b087"/>
<circle cx="60.9" cy="436.2" r="1.6" fill="#25b087"/>
<circle cx="60.9" cy="447" r="1.6" fill="#25b087"/>
<circle cx="60.9" cy="450.9" r="1.6" fill="#25b087"/>
<circle cx="60.9" cy="455.1" r="1.6" fill="#25b087"/>
<circle cx="60.9" cy="462.8" r="1.6" fill="#25b087"/>
<circle cx="98.1" cy="450.9" r="1.6500000000000001" fill="white" stroke="#555555" stroke-width="0.9"/>
<circle cx="98.1" cy="454.8" r="1.6500000000000001" fill="white" stroke="#555555" stroke-width="0.9"/>
<circle cx="91.9" cy="464.8" r="1.6500000000000001" fill="white" stroke="#555555" stroke-width="0.9"/>
<circle cx="104.8" cy="466.4" r="1.6500000000000001" fill="white" stroke="#555555" stroke-width="0.9"/>
<circle cx="98.1" cy="466.4" r="1.6500000000000001" fill="white" stroke="#555555" stroke-width="0.9"/>
<circle cx="98.1" cy="470.3" r="1.6500000000000001" fill="white" stroke="#555555" stroke-width="0.9"/>
<line x1="169.4" y1="397.3" x2="169.4" y2="475.7" stroke="#555555" stroke-width="1.5"/>
<line x1="168.65" y1="475.7" x2="256.8" y2="475.7" stroke="#555555" stroke-width="1.5"/>
<line x1="166.4" y1="475.7" x2="169.4" y2="475.7" stroke="#555555" stroke-width="1.2"/>
<text x="165.55" y="477.9" font-size="6.4" text-anchor="end" fill="#3a3a3a" font-weight="normal" font-family="'Liberation Sans', Arial, sans-serif" stroke="#3a3a3a" stroke-width="0.25">0</text>
<line x1="166.4" y1="460.14" x2="169.4" y2="460.14" stroke="#555555" stroke-width="1.2"/>
<text x="165.55" y="462.34" font-size="6.4" text-anchor="end" fill="#3a3a3a" font-weight="normal" font-family="'Liberation Sans', Arial, sans-serif" stroke="#3a3a3a" stroke-width="0.25">20</text>
<line x1="166.4" y1="444.58" x2="169.4" y2="444.58" stroke="#555555" stroke-width="1.2"/>
<text x="165.55" y="446.78" font-size="6.4" text-anchor="end" fill="#3a3a3a" font-weight="normal" font-family="'Liberation Sans', Arial, sans-serif" stroke="#3a3a3a" stroke-width="0.25">40</text>
<line x1="166.4" y1="429.02" x2="169.4" y2="429.02" stroke="#555555" stroke-width="1.2"/>
<text x="165.55" y="431.22" font-size="6.4" text-anchor="end" fill="#3a3a3a" font-weight="normal" font-family="'Liberation Sans', Arial, sans-serif" stroke="#3a3a3a" stroke-width="0.25">60</text>
<line x1="166.4" y1="413.46" x2="169.4" y2="413.46" stroke="#555555" stroke-width="1.2"/>
<text x="165.55" y="415.66" font-size="6.4" text-anchor="end" fill="#3a3a3a" font-weight="normal" font-family="'Liberation Sans', Arial, sans-serif" stroke="#3a3a3a" stroke-width="0.25">80</text>
<line x1="166.4" y1="397.9" x2="169.4" y2="397.9" stroke="#555555" stroke-width="1.2"/>
<text x="165.55" y="400.1" font-size="6.4" text-anchor="end" fill="#3a3a3a" font-weight="normal" font-family="'Liberation Sans', Arial, sans-serif" stroke="#3a3a3a" stroke-width="0.25">100</text>
<line x1="194.4" y1="475.7" x2="194.4" y2="478.2" stroke="#555555" stroke-width="1"/>
<line x1="231.6" y1="475.7" x2="231.6" y2="478.2" stroke="#555555" stroke-width="1"/>
<text x="193.6" y="490.4" font-size="10.6" text-anchor="middle" fill="#1a1a1a" stroke="#1a1a1a" stroke-width="0.3" font-family="'Liberation Sans', Arial, sans-serif">CCR4<tspan font-size="6.57" dx="0.5" dy="-5.0">+</tspan></text>
<text x="232.9" y="490.4" font-size="10.6" text-anchor="middle" fill="#1a1a1a" stroke="#1a1a1a" stroke-width="0.3" font-family="'Liberation Sans', Arial, sans-serif">CCR4<tspan font-size="7.53" dx="0" dy="-4.6">−</tspan></text>
<text transform="translate(149.7,436.8) rotate(-90)" font-size="10.5" text-anchor="middle" fill="#222" stroke="#222" stroke-width="0.25" font-family="'Liberation Sans', Arial, sans-serif">% CD25<tspan font-size="6.51" dy="-4.5">+</tspan></text>
<line x1="192.8" y1="399.3" x2="230.5" y2="399.3" stroke="#4a4a4a" stroke-width="0.95"/>
<circle cx="211.65" cy="393.9" r="1.45" fill="#111"/>
<line x1="194.4" y1="435.9" x2="194.4" y2="454.8" stroke="#45c8a0" stroke-width="1.1"/>
<line x1="181.8" y1="445.2" x2="207" y2="445.2" stroke="#45c8a0" stroke-width="1.1"/>
<line x1="188.2" y1="435.9" x2="200.6" y2="435.9" stroke="#45c8a0" stroke-width="1.1"/>
<line x1="188.2" y1="454.8" x2="200.6" y2="454.8" stroke="#45c8a0" stroke-width="1.1"/>
<line x1="231.6" y1="451.4" x2="231.6" y2="463" stroke="#555" stroke-width="1.0"/>
<line x1="219.2" y1="456.8" x2="244" y2="456.8" stroke="#555" stroke-width="1.0"/>
<line x1="225.8" y1="451.4" x2="237.4" y2="451.4" stroke="#555" stroke-width="1.0"/>
<line x1="225.8" y1="463" x2="237.4" y2="463" stroke="#555" stroke-width="1.0"/>
<circle cx="194.4" cy="431.2" r="1.6" fill="#25b087"/>
<circle cx="188.2" cy="442.7" r="1.6" fill="#25b087"/>
<circle cx="200.6" cy="443" r="1.6" fill="#25b087"/>
<circle cx="194.4" cy="444.7" r="1.6" fill="#25b087"/>
<circle cx="194.4" cy="452" r="1.6" fill="#25b087"/>
<circle cx="194.4" cy="459.1" r="1.6" fill="#25b087"/>
<circle cx="224.9" cy="449.8" r="1.6500000000000001" fill="white" stroke="#555555" stroke-width="0.9"/>
<circle cx="231.6" cy="452.4" r="1.6500000000000001" fill="white" stroke="#555555" stroke-width="0.9"/>
<circle cx="238.3" cy="452.9" r="1.6500000000000001" fill="white" stroke="#555555" stroke-width="0.9"/>
<circle cx="231.6" cy="457.1" r="1.6500000000000001" fill="white" stroke="#555555" stroke-width="0.9"/>
<circle cx="231.6" cy="460.7" r="1.6500000000000001" fill="white" stroke="#555555" stroke-width="0.9"/>
<circle cx="231.6" cy="466.4" r="1.6500000000000001" fill="white" stroke="#555555" stroke-width="0.9"/>
<line x1="302.6" y1="397.4" x2="302.6" y2="475.8" stroke="#555555" stroke-width="1.5"/>
<line x1="301.85" y1="475.8" x2="390.2" y2="475.8" stroke="#555555" stroke-width="1.5"/>
<line x1="299.6" y1="475.8" x2="302.6" y2="475.8" stroke="#555555" stroke-width="1.2"/>
<text x="298.75" y="478" font-size="6.4" text-anchor="end" fill="#3a3a3a" font-weight="normal" font-family="'Liberation Sans', Arial, sans-serif" stroke="#3a3a3a" stroke-width="0.25">0</text>
<line x1="299.6" y1="460.24" x2="302.6" y2="460.24" stroke="#555555" stroke-width="1.2"/>
<text x="298.75" y="462.44" font-size="6.4" text-anchor="end" fill="#3a3a3a" font-weight="normal" font-family="'Liberation Sans', Arial, sans-serif" stroke="#3a3a3a" stroke-width="0.25">20</text>
<line x1="299.6" y1="444.68" x2="302.6" y2="444.68" stroke="#555555" stroke-width="1.2"/>
<text x="298.75" y="446.88" font-size="6.4" text-anchor="end" fill="#3a3a3a" font-weight="normal" font-family="'Liberation Sans', Arial, sans-serif" stroke="#3a3a3a" stroke-width="0.25">40</text>
<line x1="299.6" y1="429.12" x2="302.6" y2="429.12" stroke="#555555" stroke-width="1.2"/>
<text x="298.75" y="431.32" font-size="6.4" text-anchor="end" fill="#3a3a3a" font-weight="normal" font-family="'Liberation Sans', Arial, sans-serif" stroke="#3a3a3a" stroke-width="0.25">60</text>
<line x1="299.6" y1="413.56" x2="302.6" y2="413.56" stroke="#555555" stroke-width="1.2"/>
<text x="298.75" y="415.76" font-size="6.4" text-anchor="end" fill="#3a3a3a" font-weight="normal" font-family="'Liberation Sans', Arial, sans-serif" stroke="#3a3a3a" stroke-width="0.25">80</text>
<line x1="299.6" y1="398" x2="302.6" y2="398" stroke="#555555" stroke-width="1.2"/>
<text x="298.75" y="400.2" font-size="6.4" text-anchor="end" fill="#3a3a3a" font-weight="normal" font-family="'Liberation Sans', Arial, sans-serif" stroke="#3a3a3a" stroke-width="0.25">100</text>
<line x1="327.8" y1="475.8" x2="327.8" y2="478.3" stroke="#555555" stroke-width="1"/>
<line x1="365" y1="475.8" x2="365" y2="478.3" stroke="#555555" stroke-width="1"/>
<text x="327" y="490.4" font-size="10.6" text-anchor="middle" fill="#1a1a1a" stroke="#1a1a1a" stroke-width="0.3" font-family="'Liberation Sans', Arial, sans-serif">CCR4<tspan font-size="6.57" dx="0.5" dy="-5.0">+</tspan></text>
<text x="366.3" y="490.4" font-size="10.6" text-anchor="middle" fill="#1a1a1a" stroke="#1a1a1a" stroke-width="0.3" font-family="'Liberation Sans', Arial, sans-serif">CCR4<tspan font-size="7.53" dx="0" dy="-4.6">−</tspan></text>
<text transform="translate(282.9,436.9) rotate(-90)" font-size="10.5" text-anchor="middle" fill="#222" stroke="#222" stroke-width="0.25" font-family="'Liberation Sans', Arial, sans-serif">% CD39<tspan font-size="6.51" dy="-4.5">+</tspan></text>
<line x1="326.4" y1="399.3" x2="363.9" y2="399.3" stroke="#4a4a4a" stroke-width="0.95"/>
<text x="345.15" y="395.8" font-size="6.5" text-anchor="middle" fill="#2a2a2a" font-weight="normal" font-family="'Liberation Sans', Arial, sans-serif" stroke="#2a2a2a" stroke-width="0.2">ns</text>
<line x1="327.8" y1="417.9" x2="327.8" y2="450.9" stroke="#45c8a0" stroke-width="1.1"/>
<line x1="315.4" y1="434.3" x2="340.2" y2="434.3" stroke="#45c8a0" stroke-width="1.1"/>
<line x1="321.8" y1="417.9" x2="333.8" y2="417.9" stroke="#45c8a0" stroke-width="1.1"/>
<line x1="321.8" y1="450.9" x2="333.8" y2="450.9" stroke="#45c8a0" stroke-width="1.1"/>
<line x1="365" y1="434.3" x2="365" y2="459" stroke="#555" stroke-width="1.0"/>
<line x1="352.4" y1="446.7" x2="377.6" y2="446.7" stroke="#555" stroke-width="1.0"/>
<line x1="358.8" y1="434.3" x2="371.2" y2="434.3" stroke="#555" stroke-width="1.0"/>
<line x1="358.8" y1="459" x2="371.2" y2="459" stroke="#555" stroke-width="1.0"/>
<circle cx="327.8" cy="418.3" r="1.6" fill="#25b087"/>
<circle cx="327.8" cy="422.5" r="1.6" fill="#25b087"/>
<circle cx="327.8" cy="429.2" r="1.6" fill="#25b087"/>
<circle cx="324.4" cy="434.6" r="1.6" fill="#25b087"/>
<circle cx="331" cy="436.2" r="1.6" fill="#25b087"/>
<circle cx="327.8" cy="465.2" r="1.6" fill="#25b087"/>
<circle cx="365" cy="432.8" r="1.6500000000000001" fill="white" stroke="#555555" stroke-width="0.9"/>
<circle cx="365" cy="436.5" r="1.6500000000000001" fill="white" stroke="#555555" stroke-width="0.9"/>
<circle cx="358.5" cy="445.8" r="1.6500000000000001" fill="white" stroke="#555555" stroke-width="0.9"/>
<circle cx="365" cy="448.3" r="1.6500000000000001" fill="white" stroke="#555555" stroke-width="0.9"/>
<circle cx="371.4" cy="447.8" r="1.6500000000000001" fill="white" stroke="#555555" stroke-width="0.9"/>
<circle cx="365" cy="468" r="1.6500000000000001" fill="white" stroke="#555555" stroke-width="0.9"/>
<line x1="431.6" y1="397.4" x2="431.6" y2="475.8" stroke="#555555" stroke-width="1.5"/>
<line x1="430.85" y1="475.8" x2="519" y2="475.8" stroke="#555555" stroke-width="1.5"/>
<line x1="428.6" y1="475.8" x2="431.6" y2="475.8" stroke="#555555" stroke-width="1.2"/>
<text x="427.75" y="478" font-size="6.4" text-anchor="end" fill="#3a3a3a" font-weight="normal" font-family="'Liberation Sans', Arial, sans-serif" stroke="#3a3a3a" stroke-width="0.25">0</text>
<line x1="428.6" y1="460.24" x2="431.6" y2="460.24" stroke="#555555" stroke-width="1.2"/>
<text x="427.75" y="462.44" font-size="6.4" text-anchor="end" fill="#3a3a3a" font-weight="normal" font-family="'Liberation Sans', Arial, sans-serif" stroke="#3a3a3a" stroke-width="0.25">20</text>
<line x1="428.6" y1="444.68" x2="431.6" y2="444.68" stroke="#555555" stroke-width="1.2"/>
<text x="427.75" y="446.88" font-size="6.4" text-anchor="end" fill="#3a3a3a" font-weight="normal" font-family="'Liberation Sans', Arial, sans-serif" stroke="#3a3a3a" stroke-width="0.25">40</text>
<line x1="428.6" y1="429.12" x2="431.6" y2="429.12" stroke="#555555" stroke-width="1.2"/>
<text x="427.75" y="431.32" font-size="6.4" text-anchor="end" fill="#3a3a3a" font-weight="normal" font-family="'Liberation Sans', Arial, sans-serif" stroke="#3a3a3a" stroke-width="0.25">60</text>
<line x1="428.6" y1="413.56" x2="431.6" y2="413.56" stroke="#555555" stroke-width="1.2"/>
<text x="427.75" y="415.76" font-size="6.4" text-anchor="end" fill="#3a3a3a" font-weight="normal" font-family="'Liberation Sans', Arial, sans-serif" stroke="#3a3a3a" stroke-width="0.25">80</text>
<line x1="428.6" y1="398" x2="431.6" y2="398" stroke="#555555" stroke-width="1.2"/>
<text x="427.75" y="400.2" font-size="6.4" text-anchor="end" fill="#3a3a3a" font-weight="normal" font-family="'Liberation Sans', Arial, sans-serif" stroke="#3a3a3a" stroke-width="0.25">100</text>
<line x1="456.7" y1="475.8" x2="456.7" y2="478.3" stroke="#555555" stroke-width="1"/>
<line x1="493.9" y1="475.8" x2="493.9" y2="478.3" stroke="#555555" stroke-width="1"/>
<text x="455.9" y="490.4" font-size="10.6" text-anchor="middle" fill="#1a1a1a" stroke="#1a1a1a" stroke-width="0.3" font-family="'Liberation Sans', Arial, sans-serif">CCR4<tspan font-size="6.57" dx="0.5" dy="-5.0">+</tspan></text>
<text x="495.2" y="490.4" font-size="10.6" text-anchor="middle" fill="#1a1a1a" stroke="#1a1a1a" stroke-width="0.3" font-family="'Liberation Sans', Arial, sans-serif">CCR4<tspan font-size="7.53" dx="0" dy="-4.6">−</tspan></text>
<text transform="translate(411.9,436.9) rotate(-90)" font-size="10.5" text-anchor="middle" fill="#222" stroke="#222" stroke-width="0.25" font-family="'Liberation Sans', Arial, sans-serif">% IL1R2<tspan font-size="6.51" dy="-4.5">+</tspan></text>
<line x1="455.2" y1="399.3" x2="493.1" y2="399.3" stroke="#4a4a4a" stroke-width="0.95"/>
<circle cx="474.15" cy="393.9" r="1.45" fill="#111"/>
<line x1="456.7" y1="458.2" x2="456.7" y2="470.3" stroke="#45c8a0" stroke-width="1.1"/>
<line x1="444.2" y1="464.5" x2="469.2" y2="464.5" stroke="#45c8a0" stroke-width="1.1"/>
<line x1="450.5" y1="458.2" x2="462.9" y2="458.2" stroke="#45c8a0" stroke-width="1.1"/>
<line x1="450.5" y1="470.3" x2="462.9" y2="470.3" stroke="#45c8a0" stroke-width="1.1"/>
<line x1="493.9" y1="469.5" x2="493.9" y2="474.1" stroke="#555" stroke-width="1.0"/>
<line x1="481.9" y1="470.7" x2="505.9" y2="470.7" stroke="#555" stroke-width="1.0"/>
<line x1="489.3" y1="469.5" x2="498.5" y2="469.5" stroke="#555" stroke-width="1.0"/>
<line x1="489.3" y1="474.1" x2="498.5" y2="474.1" stroke="#555" stroke-width="1.0"/>
<circle cx="456.7" cy="454.5" r="1.6" fill="#25b087"/>
<circle cx="456.7" cy="461.7" r="1.6" fill="#25b087"/>
<circle cx="450.2" cy="464.4" r="1.6" fill="#25b087"/>
<circle cx="462.9" cy="465.2" r="1.6" fill="#25b087"/>
<circle cx="456.7" cy="468.7" r="1.6" fill="#25b087"/>
<circle cx="456.7" cy="472.6" r="1.6" fill="#25b087"/>
<circle cx="483.1" cy="470.7" r="1.6500000000000001" fill="white" stroke="#555555" stroke-width="0.9"/>
<circle cx="490.5" cy="468.3" r="1.6500000000000001" fill="white" stroke="#555555" stroke-width="0.9"/>
<circle cx="497" cy="469.2" r="1.6500000000000001" fill="white" stroke="#555555" stroke-width="0.9"/>
<circle cx="505.1" cy="470.7" r="1.6500000000000001" fill="white" stroke="#555555" stroke-width="0.9"/>
<circle cx="493.6" cy="473.4" r="1.6500000000000001" fill="white" stroke="#555555" stroke-width="0.9"/>
<circle cx="489.3" cy="474.1" r="1.6500000000000001" fill="white" stroke="#555555" stroke-width="0.9"/>
<line x1="36.2" y1="543.4" x2="36.2" y2="621.4" stroke="#555555" stroke-width="1.5"/>
<line x1="35.45" y1="621.4" x2="122.5" y2="621.4" stroke="#555555" stroke-width="1.5"/>
<line x1="33.2" y1="621.4" x2="36.2" y2="621.4" stroke="#555555" stroke-width="1.2"/>
<text x="33.1" y="623.6" font-size="6.5" text-anchor="end" fill="#3a3a3a" font-weight="normal" font-family="'Liberation Sans', Arial, sans-serif" stroke="#3a3a3a" stroke-width="0.25">10</text>
<line x1="33.2" y1="595.6" x2="36.2" y2="595.6" stroke="#555555" stroke-width="1.2"/>
<text x="33.1" y="597.8" font-size="6.5" text-anchor="end" fill="#3a3a3a" font-weight="normal" font-family="'Liberation Sans', Arial, sans-serif" stroke="#3a3a3a" stroke-width="0.25">100</text>
<line x1="33.2" y1="569.8" x2="36.2" y2="569.8" stroke="#555555" stroke-width="1.2"/>
<text x="33.1" y="572" font-size="6.5" text-anchor="end" fill="#3a3a3a" font-weight="normal" font-family="'Liberation Sans', Arial, sans-serif" stroke="#3a3a3a" stroke-width="0.25">1,000</text>
<line x1="33.2" y1="544" x2="36.2" y2="544" stroke="#555555" stroke-width="1.2"/>
<text x="33.1" y="546.2" font-size="6.5" text-anchor="end" fill="#3a3a3a" font-weight="normal" font-family="'Liberation Sans', Arial, sans-serif" stroke="#3a3a3a" stroke-width="0.25">10,000</text>
<line x1="34.6" y1="613.63" x2="36.2" y2="613.63" stroke="#555555" stroke-width="0.6"/>
<line x1="34.6" y1="609.09" x2="36.2" y2="609.09" stroke="#555555" stroke-width="0.6"/>
<line x1="34.6" y1="605.87" x2="36.2" y2="605.87" stroke="#555555" stroke-width="0.6"/>
<line x1="34.6" y1="603.37" x2="36.2" y2="603.37" stroke="#555555" stroke-width="0.6"/>
<line x1="34.6" y1="601.32" x2="36.2" y2="601.32" stroke="#555555" stroke-width="0.6"/>
<line x1="34.6" y1="599.6" x2="36.2" y2="599.6" stroke="#555555" stroke-width="0.6"/>
<line x1="34.6" y1="598.1" x2="36.2" y2="598.1" stroke="#555555" stroke-width="0.6"/>
<line x1="34.6" y1="596.78" x2="36.2" y2="596.78" stroke="#555555" stroke-width="0.6"/>
<line x1="34.6" y1="587.83" x2="36.2" y2="587.83" stroke="#555555" stroke-width="0.6"/>
<line x1="34.6" y1="583.29" x2="36.2" y2="583.29" stroke="#555555" stroke-width="0.6"/>
<line x1="34.6" y1="580.07" x2="36.2" y2="580.07" stroke="#555555" stroke-width="0.6"/>
<line x1="34.6" y1="577.57" x2="36.2" y2="577.57" stroke="#555555" stroke-width="0.6"/>
<line x1="34.6" y1="575.52" x2="36.2" y2="575.52" stroke="#555555" stroke-width="0.6"/>
<line x1="34.6" y1="573.8" x2="36.2" y2="573.8" stroke="#555555" stroke-width="0.6"/>
<line x1="34.6" y1="572.3" x2="36.2" y2="572.3" stroke="#555555" stroke-width="0.6"/>
<line x1="34.6" y1="570.98" x2="36.2" y2="570.98" stroke="#555555" stroke-width="0.6"/>
<line x1="34.6" y1="562.03" x2="36.2" y2="562.03" stroke="#555555" stroke-width="0.6"/>
<line x1="34.6" y1="557.49" x2="36.2" y2="557.49" stroke="#555555" stroke-width="0.6"/>
<line x1="34.6" y1="554.27" x2="36.2" y2="554.27" stroke="#555555" stroke-width="0.6"/>
<line x1="34.6" y1="551.77" x2="36.2" y2="551.77" stroke="#555555" stroke-width="0.6"/>
<line x1="34.6" y1="549.72" x2="36.2" y2="549.72" stroke="#555555" stroke-width="0.6"/>
<line x1="34.6" y1="548" x2="36.2" y2="548" stroke="#555555" stroke-width="0.6"/>
<line x1="34.6" y1="546.5" x2="36.2" y2="546.5" stroke="#555555" stroke-width="0.6"/>
<line x1="34.6" y1="545.18" x2="36.2" y2="545.18" stroke="#555555" stroke-width="0.6"/>
<line x1="60.6" y1="621.4" x2="60.6" y2="623.6" stroke="#555555" stroke-width="1"/>
<line x1="97.7" y1="621.4" x2="97.7" y2="623.6" stroke="#555555" stroke-width="1"/>
<text transform="translate(10.2,582.4) rotate(-90)" font-size="9.6" text-anchor="middle" fill="#222" stroke="#222" stroke-width="0.25" font-family="'Liberation Sans', Arial, sans-serif">CD25 MFI</text>
<line x1="62.5" y1="540.5" x2="95.8" y2="540.5" stroke="#4a4a4a" stroke-width="0.95"/>
<circle cx="76.85" cy="535.5" r="1.45" fill="#111"/>
<circle cx="81.45" cy="535.5" r="1.45" fill="#111"/>
<line x1="60.6" y1="553.6" x2="60.6" y2="586.3" stroke="#b45cbc" stroke-width="0.9"/>
<line x1="48.5" y1="560.7" x2="72.7" y2="560.7" stroke="#b45cbc" stroke-width="0.9"/>
<line x1="54.7" y1="553.6" x2="66.5" y2="553.6" stroke="#b45cbc" stroke-width="0.9"/>
<line x1="54.7" y1="586.3" x2="66.5" y2="586.3" stroke="#b45cbc" stroke-width="0.9"/>
<line x1="97.7" y1="583.5" x2="97.7" y2="595.9" stroke="#707070" stroke-width="0.9"/>
<line x1="83.4" y1="588.6" x2="112" y2="588.6" stroke="#707070" stroke-width="0.9"/>
<line x1="91.9" y1="583.5" x2="103.5" y2="583.5" stroke="#707070" stroke-width="0.9"/>
<line x1="91.9" y1="595.9" x2="103.5" y2="595.9" stroke="#707070" stroke-width="0.9"/>
<circle cx="60.6" cy="548.6" r="2.15" fill="#a92fb3" stroke="#8a2892" stroke-width="0.4"/>
<circle cx="64.5" cy="555.1" r="2.15" fill="#a92fb3" stroke="#8a2892" stroke-width="0.4"/>
<circle cx="56.7" cy="557.9" r="2.15" fill="#a92fb3" stroke="#8a2892" stroke-width="0.4"/>
<circle cx="52.7" cy="563.3" r="2.15" fill="#a92fb3" stroke="#8a2892" stroke-width="0.4"/>
<circle cx="60.6" cy="566" r="2.15" fill="#a92fb3" stroke="#8a2892" stroke-width="0.4"/>
<circle cx="68.4" cy="563.8" r="2.15" fill="#a92fb3" stroke="#8a2892" stroke-width="0.4"/>
<circle cx="56.7" cy="571.6" r="2.15" fill="#a92fb3" stroke="#8a2892" stroke-width="0.4"/>
<circle cx="64.5" cy="572.2" r="2.15" fill="#a92fb3" stroke="#8a2892" stroke-width="0.4"/>
<circle cx="60.6" cy="593.3" r="2.15" fill="#a92fb3" stroke="#8a2892" stroke-width="0.4"/>
<circle cx="97.7" cy="579.6" r="2.05" fill="white" stroke="#555555" stroke-width="0.9"/>
<circle cx="91.2" cy="585.5" r="2.05" fill="white" stroke="#555555" stroke-width="0.9"/>
<circle cx="103.6" cy="585.5" r="2.05" fill="white" stroke="#555555" stroke-width="0.9"/>
<circle cx="91.2" cy="591.2" r="2.05" fill="white" stroke="#555555" stroke-width="0.9"/>
<circle cx="103.6" cy="591.2" r="2.05" fill="white" stroke="#555555" stroke-width="0.9"/>
<circle cx="91.2" cy="596.7" r="2.05" fill="white" stroke="#555555" stroke-width="0.9"/>
<circle cx="103.6" cy="596.7" r="2.05" fill="white" stroke="#555555" stroke-width="0.9"/>
<circle cx="97.7" cy="590" r="2.05" fill="white" stroke="#555555" stroke-width="0.9"/>
<circle cx="97.7" cy="593.8" r="2.05" fill="#666"/>
<line x1="181.3" y1="543.2" x2="181.3" y2="621.4" stroke="#555555" stroke-width="1.5"/>
<line x1="180.55" y1="621.4" x2="267.5" y2="621.4" stroke="#555555" stroke-width="1.5"/>
<line x1="178.3" y1="621.4" x2="181.3" y2="621.4" stroke="#555555" stroke-width="1.2"/>
<text x="178.2" y="623.6" font-size="6.5" text-anchor="end" fill="#3a3a3a" font-weight="normal" font-family="'Liberation Sans', Arial, sans-serif" stroke="#3a3a3a" stroke-width="0.25">100</text>
<line x1="178.3" y1="582.6" x2="181.3" y2="582.6" stroke="#555555" stroke-width="1.2"/>
<text x="178.2" y="584.8" font-size="6.5" text-anchor="end" fill="#3a3a3a" font-weight="normal" font-family="'Liberation Sans', Arial, sans-serif" stroke="#3a3a3a" stroke-width="0.25">1,000</text>
<line x1="178.3" y1="543.8" x2="181.3" y2="543.8" stroke="#555555" stroke-width="1.2"/>
<text x="178.2" y="546" font-size="6.5" text-anchor="end" fill="#3a3a3a" font-weight="normal" font-family="'Liberation Sans', Arial, sans-serif" stroke="#3a3a3a" stroke-width="0.25">10,000</text>
<line x1="179.7" y1="609.72" x2="181.3" y2="609.72" stroke="#555555" stroke-width="0.6"/>
<line x1="179.7" y1="602.89" x2="181.3" y2="602.89" stroke="#555555" stroke-width="0.6"/>
<line x1="179.7" y1="598.04" x2="181.3" y2="598.04" stroke="#555555" stroke-width="0.6"/>
<line x1="179.7" y1="594.28" x2="181.3" y2="594.28" stroke="#555555" stroke-width="0.6"/>
<line x1="179.7" y1="591.21" x2="181.3" y2="591.21" stroke="#555555" stroke-width="0.6"/>
<line x1="179.7" y1="588.61" x2="181.3" y2="588.61" stroke="#555555" stroke-width="0.6"/>
<line x1="179.7" y1="586.36" x2="181.3" y2="586.36" stroke="#555555" stroke-width="0.6"/>
<line x1="179.7" y1="584.38" x2="181.3" y2="584.38" stroke="#555555" stroke-width="0.6"/>
<line x1="179.7" y1="570.92" x2="181.3" y2="570.92" stroke="#555555" stroke-width="0.6"/>
<line x1="179.7" y1="564.09" x2="181.3" y2="564.09" stroke="#555555" stroke-width="0.6"/>
<line x1="179.7" y1="559.24" x2="181.3" y2="559.24" stroke="#555555" stroke-width="0.6"/>
<line x1="179.7" y1="555.48" x2="181.3" y2="555.48" stroke="#555555" stroke-width="0.6"/>
<line x1="179.7" y1="552.41" x2="181.3" y2="552.41" stroke="#555555" stroke-width="0.6"/>
<line x1="179.7" y1="549.81" x2="181.3" y2="549.81" stroke="#555555" stroke-width="0.6"/>
<line x1="179.7" y1="547.56" x2="181.3" y2="547.56" stroke="#555555" stroke-width="0.6"/>
<line x1="179.7" y1="545.58" x2="181.3" y2="545.58" stroke="#555555" stroke-width="0.6"/>
<line x1="205.5" y1="621.4" x2="205.5" y2="623.6" stroke="#555555" stroke-width="1"/>
<line x1="242.5" y1="621.4" x2="242.5" y2="623.6" stroke="#555555" stroke-width="1"/>
<text transform="translate(151,582.5) rotate(-90)" font-size="9.6" text-anchor="middle" fill="#222" stroke="#222" stroke-width="0.25" font-family="'Liberation Sans', Arial, sans-serif">FOXP3 MFI</text>
<line x1="207.5" y1="540.5" x2="240.75" y2="540.5" stroke="#4a4a4a" stroke-width="0.95"/>
<circle cx="217.22" cy="535.5" r="1.45" fill="#111"/>
<circle cx="221.82" cy="535.5" r="1.45" fill="#111"/>
<circle cx="226.43" cy="535.5" r="1.45" fill="#111"/>
<circle cx="231.03" cy="535.5" r="1.45" fill="#111"/>
<line x1="205.5" y1="568.5" x2="205.5" y2="588" stroke="#b45cbc" stroke-width="0.9"/>
<line x1="193.3" y1="575.2" x2="217.7" y2="575.2" stroke="#b45cbc" stroke-width="0.9"/>
<line x1="200" y1="568.5" x2="211" y2="568.5" stroke="#b45cbc" stroke-width="0.9"/>
<line x1="200" y1="588" x2="211" y2="588" stroke="#b45cbc" stroke-width="0.9"/>
<line x1="242.5" y1="583.9" x2="242.5" y2="603.2" stroke="#707070" stroke-width="0.9"/>
<line x1="231" y1="591" x2="254" y2="591" stroke="#707070" stroke-width="0.9"/>
<line x1="237" y1="583.9" x2="248" y2="583.9" stroke="#707070" stroke-width="0.9"/>
<line x1="237" y1="603.2" x2="248" y2="603.2" stroke="#707070" stroke-width="0.9"/>
<circle cx="203.6" cy="562.4" r="1.75" fill="#a92fb3" stroke="#8a2892" stroke-width="0.4"/>
<circle cx="207.9" cy="562.4" r="1.75" fill="#a92fb3" stroke="#8a2892" stroke-width="0.4"/>
<circle cx="199.5" cy="568.5" r="1.75" fill="#a92fb3" stroke="#8a2892" stroke-width="0.4"/>
<circle cx="207.6" cy="568.1" r="1.75" fill="#a92fb3" stroke="#8a2892" stroke-width="0.4"/>
<circle cx="211.9" cy="567.4" r="1.75" fill="#a92fb3" stroke="#8a2892" stroke-width="0.4"/>
<circle cx="203.8" cy="571.2" r="1.75" fill="#a92fb3" stroke="#8a2892" stroke-width="0.4"/>
<circle cx="216.2" cy="572.2" r="1.75" fill="#a92fb3" stroke="#8a2892" stroke-width="0.4"/>
<circle cx="199.5" cy="576.3" r="1.75" fill="#a92fb3" stroke="#8a2892" stroke-width="0.4"/>
<circle cx="203.8" cy="576.3" r="1.75" fill="#a92fb3" stroke="#8a2892" stroke-width="0.4"/>
<circle cx="207.6" cy="575.2" r="1.75" fill="#a92fb3" stroke="#8a2892" stroke-width="0.4"/>
<circle cx="211.9" cy="574.9" r="1.75" fill="#a92fb3" stroke="#8a2892" stroke-width="0.4"/>
<circle cx="195.5" cy="582.6" r="1.75" fill="#a92fb3" stroke="#8a2892" stroke-width="0.4"/>
<circle cx="199.5" cy="584.9" r="1.75" fill="#a92fb3" stroke="#8a2892" stroke-width="0.4"/>
<circle cx="203.8" cy="583" r="1.75" fill="#a92fb3" stroke="#8a2892" stroke-width="0.4"/>
<circle cx="207.6" cy="581.2" r="1.75" fill="#a92fb3" stroke="#8a2892" stroke-width="0.4"/>
<circle cx="211.9" cy="583.9" r="1.75" fill="#a92fb3" stroke="#8a2892" stroke-width="0.4"/>
<circle cx="216.2" cy="583.7" r="1.75" fill="#a92fb3" stroke="#8a2892" stroke-width="0.4"/>
<circle cx="203.8" cy="587.3" r="1.75" fill="#a92fb3" stroke="#8a2892" stroke-width="0.4"/>
<circle cx="207.6" cy="585.7" r="1.75" fill="#a92fb3" stroke="#8a2892" stroke-width="0.4"/>
<circle cx="207.6" cy="590.3" r="1.75" fill="#a92fb3" stroke="#8a2892" stroke-width="0.4"/>
<circle cx="205.5" cy="597" r="1.75" fill="#a92fb3" stroke="#8a2892" stroke-width="0.4"/>
<circle cx="242.6" cy="574.9" r="1.8" fill="white" stroke="#555555" stroke-width="0.9"/>
<circle cx="238.8" cy="580.6" r="1.8" fill="white" stroke="#555555" stroke-width="0.9"/>
<circle cx="242.9" cy="582.6" r="1.8" fill="white" stroke="#555555" stroke-width="0.9"/>
<circle cx="239.5" cy="587.3" r="1.8" fill="white" stroke="#555555" stroke-width="0.9"/>
<circle cx="246.2" cy="586.9" r="1.8" fill="white" stroke="#555555" stroke-width="0.9"/>
<circle cx="249.9" cy="586.6" r="1.8" fill="white" stroke="#555555" stroke-width="0.9"/>
<circle cx="242.9" cy="590.3" r="1.8" fill="white" stroke="#555555" stroke-width="0.9"/>
<circle cx="232.1" cy="594.7" r="1.8" fill="white" stroke="#555555" stroke-width="0.9"/>
<circle cx="235.5" cy="594" r="1.8" fill="white" stroke="#555555" stroke-width="0.9"/>
<circle cx="239.5" cy="594.7" r="1.8" fill="white" stroke="#555555" stroke-width="0.9"/>
<circle cx="242.9" cy="595.4" r="1.8" fill="white" stroke="#555555" stroke-width="0.9"/>
<circle cx="246.2" cy="595.4" r="1.8" fill="white" stroke="#555555" stroke-width="0.9"/>
<circle cx="249.9" cy="592" r="1.8" fill="white" stroke="#555555" stroke-width="0.9"/>
<circle cx="253.4" cy="596.7" r="1.8" fill="white" stroke="#555555" stroke-width="0.9"/>
<circle cx="235.5" cy="597.8" r="1.8" fill="white" stroke="#555555" stroke-width="0.9"/>
<circle cx="239.5" cy="598.3" r="1.8" fill="white" stroke="#555555" stroke-width="0.9"/>
<circle cx="246.2" cy="598.7" r="1.8" fill="white" stroke="#555555" stroke-width="0.9"/>
<circle cx="242.9" cy="599.4" r="1.8" fill="white" stroke="#555555" stroke-width="0.9"/>
<circle cx="242.9" cy="606.5" r="1.8" fill="white" stroke="#555555" stroke-width="0.9"/>
<circle cx="261.5" cy="557" r="2.0" fill="#a02aaa"/>
<circle cx="261.5" cy="585.8" r="1.7" fill="white" stroke="#444" stroke-width="0.9"/>
<text x="268.5" y="555" font-size="8.7" fill="#222" stroke="#222" stroke-width="0.25" font-family="'Liberation Sans', Arial, sans-serif">FOXP3<tspan font-size="5.4" dy="-3.8">+</tspan></text>
<text x="268.5" y="565.8" font-size="8.7" fill="#222" stroke="#222" stroke-width="0.25" font-family="'Liberation Sans', Arial, sans-serif">CCR8<tspan font-size="5.4" dy="-3.8">+</tspan></text>
<text x="268.5" y="584.5" font-size="8.7" fill="#222" stroke="#222" stroke-width="0.25" font-family="'Liberation Sans', Arial, sans-serif">FOXP3<tspan font-size="5.4" dy="-3.8">+</tspan></text>
<text x="268.5" y="595" font-size="8.7" fill="#222" stroke="#222" stroke-width="0.25" font-family="'Liberation Sans', Arial, sans-serif">CCR8<tspan font-size="5.4" dy="-3.8">−</tspan></text>
<rect x="343.3" y="517.7" width="168.7" height="101.19999999999993" fill="white"/>
<line x1="369.5" y1="517.7" x2="369.5" y2="618.9" stroke="#f3f3f3" stroke-width="0.5"/>
<line x1="408.3" y1="517.7" x2="408.3" y2="618.9" stroke="#f3f3f3" stroke-width="0.5"/>
<line x1="447.1" y1="517.7" x2="447.1" y2="618.9" stroke="#f3f3f3" stroke-width="0.5"/>
<line x1="485.9" y1="517.7" x2="485.9" y2="618.9" stroke="#f3f3f3" stroke-width="0.5"/>
<line x1="343.3" y1="601.03" x2="512" y2="601.03" stroke="#f3f3f3" stroke-width="0.5"/>
<line x1="343.3" y1="572.49" x2="512" y2="572.49" stroke="#f3f3f3" stroke-width="0.5"/>
<line x1="343.3" y1="543.95" x2="512" y2="543.95" stroke="#f3f3f3" stroke-width="0.5"/>
<line x1="350.1" y1="517.7" x2="350.1" y2="618.9" stroke="#ebebeb" stroke-width="0.9"/>
<line x1="388.9" y1="517.7" x2="388.9" y2="618.9" stroke="#ebebeb" stroke-width="0.9"/>
<line x1="466.5" y1="517.7" x2="466.5" y2="618.9" stroke="#ebebeb" stroke-width="0.9"/>
<line x1="505.3" y1="517.7" x2="505.3" y2="618.9" stroke="#ebebeb" stroke-width="0.9"/>
<line x1="343.3" y1="615.3" x2="512" y2="615.3" stroke="#ebebeb" stroke-width="0.9"/>
<line x1="343.3" y1="586.76" x2="512" y2="586.76" stroke="#ebebeb" stroke-width="0.9"/>
<line x1="343.3" y1="558.22" x2="512" y2="558.22" stroke="#ebebeb" stroke-width="0.9"/>
<line x1="343.3" y1="529.68" x2="512" y2="529.68" stroke="#ebebeb" stroke-width="0.9"/>
<polygon points="408.3,614.9 423.2,614.9 423.2,606.7 416.1,609.0 408.3,612.0" fill="#1c1ce0"/>
<polygon points="431.6,614.7 443.2,614.7 443.2,611.0 441.3,605.3 437.4,599.6 433.5,595.3 431.6,595.3" fill="#1c1ce0"/>
<path fill="#1c1ce0" fill-opacity="0.85" d="M413.4 605.9h1.1v1.1h-1.1zM421.4 603.9h1.1v1.1h-1.1zM414.4 605.3h1.1v1.1h-1.1zM408.9 608.0h1.1v1.1h-1.1zM416.4 601.6h1.1v1.1h-1.1zM407.4 610.0h1.1v1.1h-1.1zM407.3 604.5h1.1v1.1h-1.1zM417.5 607.8h1.1v1.1h-1.1zM422.4 591.9h1.1v1.1h-1.1zM416.8 604.1h1.1v1.1h-1.1zM408.5 611.1h1.1v1.1h-1.1zM414.7 608.7h1.1v1.1h-1.1zM409.0 609.8h1.1v1.1h-1.1zM406.3 609.3h1.1v1.1h-1.1zM413.2 601.6h1.1v1.1h-1.1zM414.6 604.6h1.1v1.1h-1.1zM414.2 604.5h1.1v1.1h-1.1zM413.5 608.0h1.1v1.1h-1.1zM422.6 582.8h1.1v1.1h-1.1zM420.0 601.8h1.1v1.1h-1.1zM411.1 609.1h1.1v1.1h-1.1zM410.7 610.1h1.1v1.1h-1.1zM418.7 605.3h1.1v1.1h-1.1zM420.1 604.9h1.1v1.1h-1.1zM422.0 598.3h1.1v1.1h-1.1zM405.8 611.2h1.1v1.1h-1.1zM421.2 603.9h1.1v1.1h-1.1zM422.4 604.0h1.1v1.1h-1.1zM407.0 607.5h1.1v1.1h-1.1zM418.9 606.1h1.1v1.1h-1.1zM407.3 609.9h1.1v1.1h-1.1zM422.1 600.2h1.1v1.1h-1.1zM407.8 610.2h1.1v1.1h-1.1zM407.5 611.3h1.1v1.1h-1.1zM419.3 606.5h1.1v1.1h-1.1zM415.2 606.2h1.1v1.1h-1.1zM409.0 605.4h1.1v1.1h-1.1zM408.0 607.0h1.1v1.1h-1.1zM407.8 609.1h1.1v1.1h-1.1zM409.4 609.5h1.1v1.1h-1.1zM422.2 599.3h1.1v1.1h-1.1zM410.9 601.1h1.1v1.1h-1.1zM409.4 608.7h1.1v1.1h-1.1zM420.2 602.6h1.1v1.1h-1.1zM407.5 592.1h1.1v1.1h-1.1zM409.4 609.6h1.1v1.1h-1.1zM418.9 605.8h1.1v1.1h-1.1zM410.8 610.0h1.1v1.1h-1.1zM407.3 607.9h1.1v1.1h-1.1zM409.9 606.8h1.1v1.1h-1.1zM412.1 607.3h1.1v1.1h-1.1zM422.0 603.5h1.1v1.1h-1.1zM415.5 600.1h1.1v1.1h-1.1zM408.9 610.3h1.1v1.1h-1.1zM421.1 599.4h1.1v1.1h-1.1zM410.0 609.7h1.1v1.1h-1.1zM418.3 595.6h1.1v1.1h-1.1zM409.1 598.1h1.1v1.1h-1.1zM420.7 602.8h1.1v1.1h-1.1zM412.9 609.1h1.1v1.1h-1.1zM406.5 597.9h1.1v1.1h-1.1zM409.8 605.5h1.1v1.1h-1.1zM410.1 603.2h1.1v1.1h-1.1zM415.9 607.1h1.1v1.1h-1.1zM408.8 605.6h1.1v1.1h-1.1zM407.0 610.6h1.1v1.1h-1.1zM415.3 600.6h1.1v1.1h-1.1zM416.2 607.0h1.1v1.1h-1.1zM421.3 605.6h1.1v1.1h-1.1zM406.1 610.7h1.1v1.1h-1.1zM413.3 609.2h1.1v1.1h-1.1zM408.8 609.1h1.1v1.1h-1.1zM415.5 608.1h1.1v1.1h-1.1zM411.9 600.5h1.1v1.1h-1.1zM422.4 601.6h1.1v1.1h-1.1zM417.5 604.2h1.1v1.1h-1.1zM408.2 611.2h1.1v1.1h-1.1zM406.1 601.7h1.1v1.1h-1.1zM417.6 593.8h1.1v1.1h-1.1zM406.2 607.7h1.1v1.1h-1.1zM413.9 603.6h1.1v1.1h-1.1zM411.2 578.8h1.1v1.1h-1.1zM407.1 608.3h1.1v1.1h-1.1zM418.2 597.8h1.1v1.1h-1.1zM418.3 602.5h1.1v1.1h-1.1zM419.2 596.8h1.1v1.1h-1.1zM411.7 605.1h1.1v1.1h-1.1zM421.0 597.9h1.1v1.1h-1.1zM412.9 602.9h1.1v1.1h-1.1zM420.4 603.3h1.1v1.1h-1.1zM416.4 606.3h1.1v1.1h-1.1zM415.6 604.6h1.1v1.1h-1.1zM407.2 607.3h1.1v1.1h-1.1zM422.6 597.1h1.1v1.1h-1.1zM418.1 605.6h1.1v1.1h-1.1zM418.2 604.0h1.1v1.1h-1.1zM413.2 601.7h1.1v1.1h-1.1zM407.2 605.7h1.1v1.1h-1.1zM406.3 608.0h1.1v1.1h-1.1zM413.9 608.1h1.1v1.1h-1.1zM417.6 605.0h1.1v1.1h-1.1zM416.2 597.6h1.1v1.1h-1.1zM410.1 610.6h1.1v1.1h-1.1zM410.9 605.5h1.1v1.1h-1.1zM409.2 610.1h1.1v1.1h-1.1zM421.1 602.0h1.1v1.1h-1.1zM413.3 600.0h1.1v1.1h-1.1zM411.3 605.5h1.1v1.1h-1.1zM409.2 608.5h1.1v1.1h-1.1zM419.4 596.7h1.1v1.1h-1.1zM420.7 604.7h1.1v1.1h-1.1zM415.7 607.0h1.1v1.1h-1.1zM408.1 608.4h1.1v1.1h-1.1zM419.9 599.0h1.1v1.1h-1.1zM417.8 595.0h1.1v1.1h-1.1zM410.5 609.7h1.1v1.1h-1.1zM413.4 608.0h1.1v1.1h-1.1zM409.4 608.6h1.1v1.1h-1.1zM416.4 605.4h1.1v1.1h-1.1zM411.1 602.4h1.1v1.1h-1.1zM407.6 612.5h1.1v1.1h-1.1zM398.8 614.6h1.1v1.1h-1.1zM406.5 614.5h1.1v1.1h-1.1zM404.9 611.9h1.1v1.1h-1.1zM401.0 610.8h1.1v1.1h-1.1zM398.2 614.1h1.1v1.1h-1.1zM402.5 614.6h1.1v1.1h-1.1zM406.1 613.6h1.1v1.1h-1.1zM399.4 614.5h1.1v1.1h-1.1zM404.2 612.5h1.1v1.1h-1.1zM404.2 611.5h1.1v1.1h-1.1zM405.9 610.0h1.1v1.1h-1.1zM404.7 613.8h1.1v1.1h-1.1zM402.7 613.9h1.1v1.1h-1.1zM398.2 612.4h1.1v1.1h-1.1zM405.0 613.9h1.1v1.1h-1.1zM400.7 613.0h1.1v1.1h-1.1zM404.8 612.2h1.1v1.1h-1.1zM404.0 611.0h1.1v1.1h-1.1zM401.9 610.8h1.1v1.1h-1.1zM443.3 605.3h1.1v1.1h-1.1zM434.2 596.9h1.1v1.1h-1.1zM443.9 612.2h1.1v1.1h-1.1zM434.4 599.4h1.1v1.1h-1.1zM440.0 609.2h1.1v1.1h-1.1zM446.6 606.7h1.1v1.1h-1.1zM443.3 604.8h1.1v1.1h-1.1zM442.0 610.0h1.1v1.1h-1.1zM441.5 608.2h1.1v1.1h-1.1zM448.2 606.6h1.1v1.1h-1.1zM435.5 590.0h1.1v1.1h-1.1zM444.0 607.2h1.1v1.1h-1.1zM445.3 612.2h1.1v1.1h-1.1zM446.7 604.2h1.1v1.1h-1.1zM443.2 607.1h1.1v1.1h-1.1zM444.4 612.2h1.1v1.1h-1.1zM443.6 614.4h1.1v1.1h-1.1zM437.0 601.3h1.1v1.1h-1.1zM431.2 592.9h1.1v1.1h-1.1zM442.2 607.9h1.1v1.1h-1.1zM435.1 586.9h1.1v1.1h-1.1zM442.7 611.5h1.1v1.1h-1.1zM442.5 609.2h1.1v1.1h-1.1zM440.3 607.4h1.1v1.1h-1.1zM448.5 609.6h1.1v1.1h-1.1zM443.3 607.4h1.1v1.1h-1.1zM448.1 614.6h1.1v1.1h-1.1zM441.8 605.5h1.1v1.1h-1.1zM435.5 599.5h1.1v1.1h-1.1zM431.9 595.1h1.1v1.1h-1.1zM437.6 604.9h1.1v1.1h-1.1zM435.4 590.1h1.1v1.1h-1.1zM440.6 606.8h1.1v1.1h-1.1zM447.9 610.6h1.1v1.1h-1.1zM448.4 609.7h1.1v1.1h-1.1zM445.2 614.4h1.1v1.1h-1.1zM441.5 604.5h1.1v1.1h-1.1zM431.8 582.8h1.1v1.1h-1.1zM433.8 596.1h1.1v1.1h-1.1zM434.0 596.1h1.1v1.1h-1.1zM441.7 611.7h1.1v1.1h-1.1zM447.5 612.0h1.1v1.1h-1.1zM440.2 605.1h1.1v1.1h-1.1zM437.4 603.4h1.1v1.1h-1.1zM442.5 609.2h1.1v1.1h-1.1zM436.0 596.5h1.1v1.1h-1.1zM436.2 603.1h1.1v1.1h-1.1zM435.3 601.5h1.1v1.1h-1.1zM433.8 592.2h1.1v1.1h-1.1zM437.8 594.4h1.1v1.1h-1.1zM444.1 614.5h1.1v1.1h-1.1zM448.3 600.3h1.1v1.1h-1.1zM432.3 585.1h1.1v1.1h-1.1zM438.5 603.7h1.1v1.1h-1.1zM448.0 613.4h1.1v1.1h-1.1zM440.2 595.7h1.1v1.1h-1.1zM443.6 611.6h1.1v1.1h-1.1zM448.1 606.3h1.1v1.1h-1.1zM441.6 611.2h1.1v1.1h-1.1zM441.9 609.4h1.1v1.1h-1.1zM434.6 600.3h1.1v1.1h-1.1zM440.3 609.0h1.1v1.1h-1.1zM438.8 601.8h1.1v1.1h-1.1zM439.0 606.1h1.1v1.1h-1.1zM441.2 608.5h1.1v1.1h-1.1zM444.6 611.0h1.1v1.1h-1.1zM448.4 599.5h1.1v1.1h-1.1zM443.9 613.4h1.1v1.1h-1.1zM433.0 586.8h1.1v1.1h-1.1zM444.7 609.9h1.1v1.1h-1.1zM437.3 603.3h1.1v1.1h-1.1zM443.0 610.0h1.1v1.1h-1.1zM441.4 606.5h1.1v1.1h-1.1zM444.2 613.7h1.1v1.1h-1.1zM435.4 582.3h1.1v1.1h-1.1zM447.0 604.2h1.1v1.1h-1.1zM431.7 595.6h1.1v1.1h-1.1zM435.8 599.7h1.1v1.1h-1.1zM441.9 611.8h1.1v1.1h-1.1zM440.5 609.7h1.1v1.1h-1.1zM432.5 591.6h1.1v1.1h-1.1zM440.6 605.3h1.1v1.1h-1.1zM437.5 602.1h1.1v1.1h-1.1zM434.7 598.6h1.1v1.1h-1.1zM444.0 605.6h1.1v1.1h-1.1zM432.3 596.2h1.1v1.1h-1.1zM445.2 609.9h1.1v1.1h-1.1zM444.5 613.6h1.1v1.1h-1.1zM438.4 605.3h1.1v1.1h-1.1zM445.2 612.5h1.1v1.1h-1.1zM442.4 590.6h1.1v1.1h-1.1zM436.7 600.0h1.1v1.1h-1.1zM444.1 602.1h1.1v1.1h-1.1zM438.5 604.6h1.1v1.1h-1.1zM432.7 587.1h1.1v1.1h-1.1zM432.4 596.6h1.1v1.1h-1.1zM440.9 607.4h1.1v1.1h-1.1zM443.0 612.4h1.1v1.1h-1.1zM444.6 614.4h1.1v1.1h-1.1zM434.8 595.4h1.1v1.1h-1.1zM432.5 595.3h1.1v1.1h-1.1zM443.7 608.8h1.1v1.1h-1.1zM436.0 602.0h1.1v1.1h-1.1zM437.3 598.4h1.1v1.1h-1.1zM437.4 604.5h1.1v1.1h-1.1zM443.4 610.5h1.1v1.1h-1.1zM447.1 600.7h1.1v1.1h-1.1zM447.0 611.9h1.1v1.1h-1.1zM445.1 612.9h1.1v1.1h-1.1zM436.6 601.2h1.1v1.1h-1.1zM447.3 603.5h1.1v1.1h-1.1zM435.4 599.5h1.1v1.1h-1.1zM437.4 602.8h1.1v1.1h-1.1zM437.9 603.5h1.1v1.1h-1.1zM434.4 596.1h1.1v1.1h-1.1zM444.9 610.9h1.1v1.1h-1.1zM445.6 610.6h1.1v1.1h-1.1zM434.1 592.7h1.1v1.1h-1.1zM446.4 613.1h1.1v1.1h-1.1zM431.4 591.8h1.1v1.1h-1.1zM440.5 606.0h1.1v1.1h-1.1zM447.9 609.5h1.1v1.1h-1.1zM445.1 614.4h1.1v1.1h-1.1zM440.6 602.5h1.1v1.1h-1.1zM432.5 596.7h1.1v1.1h-1.1zM443.9 603.3h1.1v1.1h-1.1zM432.5 592.1h1.1v1.1h-1.1zM433.5 592.0h1.1v1.1h-1.1zM442.4 611.7h1.1v1.1h-1.1zM434.9 593.8h1.1v1.1h-1.1zM440.1 602.3h1.1v1.1h-1.1zM437.9 603.9h1.1v1.1h-1.1zM447.9 609.2h1.1v1.1h-1.1zM439.6 604.9h1.1v1.1h-1.1zM443.6 608.6h1.1v1.1h-1.1zM447.0 612.1h1.1v1.1h-1.1zM445.5 609.3h1.1v1.1h-1.1zM445.9 606.6h1.1v1.1h-1.1zM445.6 603.8h1.1v1.1h-1.1zM447.8 609.6h1.1v1.1h-1.1zM440.2 603.4h1.1v1.1h-1.1zM445.0 612.0h1.1v1.1h-1.1zM438.4 605.9h1.1v1.1h-1.1zM444.0 591.2h1.1v1.1h-1.1zM437.6 604.5h1.1v1.1h-1.1zM434.6 597.8h1.1v1.1h-1.1zM436.1 585.5h1.1v1.1h-1.1zM432.1 594.6h1.1v1.1h-1.1zM433.0 592.8h1.1v1.1h-1.1zM444.6 613.8h1.1v1.1h-1.1zM432.1 593.5h1.1v1.1h-1.1zM441.2 599.3h1.1v1.1h-1.1zM431.7 595.2h1.1v1.1h-1.1zM434.3 598.8h1.1v1.1h-1.1zM435.1 595.1h1.1v1.1h-1.1zM441.4 610.3h1.1v1.1h-1.1zM434.3 598.4h1.1v1.1h-1.1zM434.0 592.6h1.1v1.1h-1.1zM436.5 599.6h1.1v1.1h-1.1zM445.3 611.5h1.1v1.1h-1.1zM435.6 591.2h1.1v1.1h-1.1zM447.0 612.7h1.1v1.1h-1.1zM440.6 594.5h1.1v1.1h-1.1zM439.5 607.2h1.1v1.1h-1.1zM431.9 581.5h1.1v1.1h-1.1zM445.0 612.3h1.1v1.1h-1.1zM440.2 606.1h1.1v1.1h-1.1zM435.8 579.4h1.1v1.1h-1.1zM442.5 612.0h1.1v1.1h-1.1zM431.2 591.9h1.1v1.1h-1.1zM437.5 597.3h1.1v1.1h-1.1zM443.5 610.1h1.1v1.1h-1.1zM433.8 598.4h1.1v1.1h-1.1zM436.6 602.4h1.1v1.1h-1.1zM446.2 611.1h1.1v1.1h-1.1zM442.2 587.9h1.1v1.1h-1.1zM435.7 598.5h1.1v1.1h-1.1zM433.7 591.7h1.1v1.1h-1.1zM431.1 586.2h1.1v1.1h-1.1zM445.8 606.1h1.1v1.1h-1.1zM432.5 595.5h1.1v1.1h-1.1zM443.5 614.2h1.1v1.1h-1.1zM439.4 605.2h1.1v1.1h-1.1zM447.7 610.3h1.1v1.1h-1.1zM446.0 612.9h1.1v1.1h-1.1zM444.8 612.1h1.1v1.1h-1.1zM447.0 614.3h1.1v1.1h-1.1zM445.5 613.6h1.1v1.1h-1.1zM440.5 606.4h1.1v1.1h-1.1zM433.8 590.3h1.1v1.1h-1.1zM436.5 601.7h1.1v1.1h-1.1zM432.4 595.1h1.1v1.1h-1.1zM439.2 601.7h1.1v1.1h-1.1zM437.3 599.1h1.1v1.1h-1.1zM432.9 595.3h1.1v1.1h-1.1zM439.1 590.8h1.1v1.1h-1.1zM445.5 609.5h1.1v1.1h-1.1zM431.2 592.8h1.1v1.1h-1.1zM443.4 613.4h1.1v1.1h-1.1zM440.9 607.7h1.1v1.1h-1.1zM431.2 571.2h1.1v1.1h-1.1zM445.0 613.6h1.1v1.1h-1.1zM441.8 610.5h1.1v1.1h-1.1zM437.6 601.5h1.1v1.1h-1.1zM436.2 601.1h1.1v1.1h-1.1zM437.9 600.4h1.1v1.1h-1.1zM435.5 600.9h1.1v1.1h-1.1zM443.8 612.8h1.1v1.1h-1.1zM447.5 610.6h1.1v1.1h-1.1zM443.7 612.7h1.1v1.1h-1.1zM445.5 614.3h1.1v1.1h-1.1zM433.5 598.3h1.1v1.1h-1.1zM442.9 607.8h1.1v1.1h-1.1zM434.2 597.3h1.1v1.1h-1.1zM445.6 610.3h1.1v1.1h-1.1zM432.6 596.0h1.1v1.1h-1.1zM433.8 598.5h1.1v1.1h-1.1zM438.1 605.9h1.1v1.1h-1.1zM447.1 612.0h1.1v1.1h-1.1zM440.0 604.0h1.1v1.1h-1.1zM444.4 606.2h1.1v1.1h-1.1zM437.8 603.7h1.1v1.1h-1.1zM438.2 606.3h1.1v1.1h-1.1zM438.0 600.1h1.1v1.1h-1.1zM448.2 607.0h1.1v1.1h-1.1zM442.6 608.7h1.1v1.1h-1.1zM431.4 593.3h1.1v1.1h-1.1zM437.0 599.2h1.1v1.1h-1.1zM432.9 595.4h1.1v1.1h-1.1zM439.9 601.4h1.1v1.1h-1.1zM445.4 610.0h1.1v1.1h-1.1zM433.8 592.0h1.1v1.1h-1.1zM446.8 610.8h1.1v1.1h-1.1zM437.2 601.3h1.1v1.1h-1.1zM433.5 592.5h1.1v1.1h-1.1zM448.3 611.1h1.1v1.1h-1.1zM443.5 605.7h1.1v1.1h-1.1zM434.5 585.9h1.1v1.1h-1.1zM442.0 611.4h1.1v1.1h-1.1zM432.5 595.7h1.1v1.1h-1.1zM441.1 605.1h1.1v1.1h-1.1zM436.8 590.9h1.1v1.1h-1.1zM437.3 601.9h1.1v1.1h-1.1zM433.2 580.1h1.1v1.1h-1.1zM433.4 586.9h1.1v1.1h-1.1zM440.5 606.0h1.1v1.1h-1.1zM440.8 609.1h1.1v1.1h-1.1zM446.9 590.6h1.1v1.1h-1.1zM445.3 610.2h1.1v1.1h-1.1zM433.2 589.5h1.1v1.1h-1.1zM436.1 591.6h1.1v1.1h-1.1zM435.2 597.3h1.1v1.1h-1.1zM445.5 613.7h1.1v1.1h-1.1zM440.6 609.9h1.1v1.1h-1.1zM431.6 594.7h1.1v1.1h-1.1zM448.3 600.7h1.1v1.1h-1.1zM442.5 611.5h1.1v1.1h-1.1zM442.7 607.1h1.1v1.1h-1.1zM437.7 601.1h1.1v1.1h-1.1zM445.1 614.7h1.1v1.1h-1.1zM444.2 610.1h1.1v1.1h-1.1zM443.8 610.9h1.1v1.1h-1.1zM447.1 613.0h1.1v1.1h-1.1zM446.7 612.1h1.1v1.1h-1.1zM447.1 611.4h1.1v1.1h-1.1zM447.6 614.4h1.1v1.1h-1.1zM447.9 613.3h1.1v1.1h-1.1zM450.1 608.8h1.1v1.1h-1.1zM446.3 610.6h1.1v1.1h-1.1zM447.5 607.9h1.1v1.1h-1.1zM448.6 607.2h1.1v1.1h-1.1zM446.4 604.8h1.1v1.1h-1.1zM449.2 606.2h1.1v1.1h-1.1zM445.8 610.4h1.1v1.1h-1.1zM447.1 605.7h1.1v1.1h-1.1zM446.8 609.5h1.1v1.1h-1.1zM446.0 605.7h1.1v1.1h-1.1zM445.2 614.2h1.1v1.1h-1.1zM448.3 605.8h1.1v1.1h-1.1zM448.4 608.8h1.1v1.1h-1.1zM448.5 611.7h1.1v1.1h-1.1zM447.3 614.1h1.1v1.1h-1.1zM443.6 610.3h1.1v1.1h-1.1zM446.6 610.8h1.1v1.1h-1.1zM443.1 607.8h1.1v1.1h-1.1zM446.8 612.4h1.1v1.1h-1.1zM445.0 610.8h1.1v1.1h-1.1zM444.5 614.1h1.1v1.1h-1.1zM449.7 605.1h1.1v1.1h-1.1zM447.8 606.1h1.1v1.1h-1.1zM445.9 606.7h1.1v1.1h-1.1zM444.4 607.3h1.1v1.1h-1.1zM447.1 605.7h1.1v1.1h-1.1zM443.4 606.8h1.1v1.1h-1.1zM443.6 609.4h1.1v1.1h-1.1zM450.0 614.7h1.1v1.1h-1.1zM444.6 611.8h1.1v1.1h-1.1zM445.2 614.1h1.1v1.1h-1.1zM449.6 606.6h1.1v1.1h-1.1zM445.8 611.2h1.1v1.1h-1.1zM447.2 614.3h1.1v1.1h-1.1zM442.9 605.8h1.1v1.1h-1.1zM445.1 609.8h1.1v1.1h-1.1zM449.9 605.0h1.1v1.1h-1.1zM446.3 612.7h1.1v1.1h-1.1zM445.0 605.5h1.1v1.1h-1.1zM449.6 612.8h1.1v1.1h-1.1zM449.2 611.2h1.1v1.1h-1.1zM446.3 613.0h1.1v1.1h-1.1zM449.5 604.8h1.1v1.1h-1.1zM444.2 608.4h1.1v1.1h-1.1zM444.2 606.0h1.1v1.1h-1.1zM443.1 613.7h1.1v1.1h-1.1zM448.3 611.6h1.1v1.1h-1.1zM449.7 606.1h1.1v1.1h-1.1zM448.2 613.4h1.1v1.1h-1.1zM448.1 605.4h1.1v1.1h-1.1zM446.1 614.0h1.1v1.1h-1.1zM444.4 611.7h1.1v1.1h-1.1zM448.2 612.8h1.1v1.1h-1.1zM444.1 612.4h1.1v1.1h-1.1zM447.8 606.9h1.1v1.1h-1.1zM445.6 608.1h1.1v1.1h-1.1zM449.5 608.9h1.1v1.1h-1.1zM444.4 611.7h1.1v1.1h-1.1zM449.9 608.1h1.1v1.1h-1.1zM444.8 608.4h1.1v1.1h-1.1zM443.4 604.9h1.1v1.1h-1.1zM446.1 609.5h1.1v1.1h-1.1zM446.8 614.3h1.1v1.1h-1.1z"/>
<path fill="#3a3a8c" d="M386.0 612.5h1v1h-1zM380.9 593.4h1v1h-1zM420.6 610.7h1v1h-1zM407.5 600.4h1v1h-1zM415.4 608.1h1v1h-1zM389.9 595.0h1v1h-1zM377.9 600.4h1v1h-1zM406.4 611.4h1v1h-1zM402.9 599.9h1v1h-1zM406.8 603.2h1v1h-1zM419.0 605.9h1v1h-1zM361.6 584.1h1v1h-1zM410.8 603.6h1v1h-1zM416.7 604.7h1v1h-1zM392.7 606.6h1v1h-1zM421.4 611.0h1v1h-1zM410.3 603.7h1v1h-1zM412.4 614.4h1v1h-1zM397.0 613.4h1v1h-1zM397.8 611.2h1v1h-1zM416.4 605.9h1v1h-1zM420.4 613.4h1v1h-1zM411.5 604.8h1v1h-1zM394.3 599.2h1v1h-1zM377.5 599.4h1v1h-1zM376.5 612.1h1v1h-1zM418.9 609.5h1v1h-1zM417.4 607.0h1v1h-1zM406.9 606.4h1v1h-1zM393.9 602.0h1v1h-1zM416.9 610.6h1v1h-1zM393.8 594.2h1v1h-1zM419.1 606.4h1v1h-1zM369.1 598.3h1v1h-1zM409.5 611.8h1v1h-1zM410.8 607.7h1v1h-1zM408.3 614.4h1v1h-1zM368.6 598.6h1v1h-1zM414.8 605.1h1v1h-1zM409.9 607.6h1v1h-1zM404.5 613.7h1v1h-1zM410.7 608.9h1v1h-1zM374.0 585.8h1v1h-1zM417.9 609.8h1v1h-1zM420.6 610.9h1v1h-1zM396.5 595.4h1v1h-1zM412.7 610.6h1v1h-1zM419.4 608.8h1v1h-1zM382.5 611.1h1v1h-1zM399.3 614.3h1v1h-1zM419.4 612.6h1v1h-1zM404.7 609.2h1v1h-1zM415.9 607.7h1v1h-1zM421.0 608.3h1v1h-1zM420.7 610.2h1v1h-1zM418.3 612.8h1v1h-1zM411.0 608.7h1v1h-1zM415.4 609.9h1v1h-1zM411.0 612.6h1v1h-1zM419.2 608.6h1v1h-1zM406.9 606.3h1v1h-1zM393.2 600.6h1v1h-1zM392.6 609.3h1v1h-1zM401.8 599.6h1v1h-1zM386.6 606.4h1v1h-1zM416.9 604.6h1v1h-1zM418.9 604.8h1v1h-1zM388.8 611.4h1v1h-1zM418.5 607.4h1v1h-1zM418.1 613.8h1v1h-1zM395.0 605.4h1v1h-1zM398.5 612.2h1v1h-1zM414.7 606.5h1v1h-1zM422.5 613.2h1v1h-1zM404.9 599.2h1v1h-1zM369.1 611.2h1v1h-1zM411.8 604.5h1v1h-1zM411.9 605.5h1v1h-1zM419.5 614.1h1v1h-1zM421.0 614.5h1v1h-1zM410.3 607.4h1v1h-1zM409.7 612.6h1v1h-1zM419.6 612.8h1v1h-1zM394.3 592.4h1v1h-1zM382.1 612.0h1v1h-1zM421.7 606.7h1v1h-1zM413.1 604.9h1v1h-1zM416.6 609.6h1v1h-1zM411.5 608.9h1v1h-1zM408.5 614.6h1v1h-1zM441.7 606.7h1v1h-1zM434.4 585.9h1v1h-1zM432.1 603.9h1v1h-1zM447.5 609.3h1v1h-1zM434.9 595.4h1v1h-1zM433.5 581.7h1v1h-1zM431.5 596.8h1v1h-1zM447.2 606.1h1v1h-1zM461.9 609.1h1v1h-1zM433.4 594.2h1v1h-1zM443.1 605.1h1v1h-1zM443.6 594.0h1v1h-1zM439.5 599.3h1v1h-1zM452.8 603.2h1v1h-1zM439.6 585.7h1v1h-1zM433.3 585.9h1v1h-1zM433.2 592.2h1v1h-1zM434.2 598.9h1v1h-1zM448.3 597.8h1v1h-1zM449.3 609.9h1v1h-1zM438.9 607.9h1v1h-1zM441.2 600.3h1v1h-1zM431.5 591.6h1v1h-1zM445.7 600.9h1v1h-1zM455.1 612.2h1v1h-1zM433.0 614.1h1v1h-1zM439.1 601.3h1v1h-1zM437.9 606.3h1v1h-1zM449.7 613.3h1v1h-1zM458.8 608.3h1v1h-1zM440.2 591.1h1v1h-1zM434.2 609.5h1v1h-1zM435.4 613.3h1v1h-1zM435.5 593.1h1v1h-1zM439.8 606.7h1v1h-1zM441.4 612.3h1v1h-1zM451.1 611.6h1v1h-1zM434.5 609.1h1v1h-1zM444.7 593.8h1v1h-1zM449.1 613.5h1v1h-1zM437.2 602.8h1v1h-1zM433.9 579.4h1v1h-1zM431.6 595.8h1v1h-1zM447.8 592.9h1v1h-1zM432.9 597.7h1v1h-1zM447.0 613.9h1v1h-1zM434.3 582.7h1v1h-1zM432.9 600.0h1v1h-1zM435.2 599.9h1v1h-1zM432.0 613.5h1v1h-1zM447.9 598.6h1v1h-1zM434.1 605.6h1v1h-1zM440.4 607.6h1v1h-1zM438.3 585.0h1v1h-1zM436.3 603.4h1v1h-1zM477.4 607.8h1v1h-1zM431.6 599.1h1v1h-1zM443.3 613.2h1v1h-1zM436.0 590.9h1v1h-1zM454.3 605.7h1v1h-1zM456.4 608.6h1v1h-1zM436.9 586.6h1v1h-1zM436.7 588.5h1v1h-1zM433.9 602.1h1v1h-1zM433.4 594.5h1v1h-1zM433.2 607.2h1v1h-1zM433.9 597.7h1v1h-1zM435.4 599.2h1v1h-1zM444.3 592.6h1v1h-1zM433.7 600.8h1v1h-1zM432.0 588.2h1v1h-1zM436.3 605.5h1v1h-1zM431.3 607.7h1v1h-1zM434.6 600.8h1v1h-1zM461.0 606.6h1v1h-1zM434.7 601.9h1v1h-1zM433.0 579.8h1v1h-1zM436.3 588.7h1v1h-1zM446.0 593.1h1v1h-1zM431.3 602.2h1v1h-1zM436.7 612.0h1v1h-1zM456.0 610.3h1v1h-1zM448.2 603.5h1v1h-1zM431.7 599.6h1v1h-1zM434.2 613.3h1v1h-1zM433.0 592.5h1v1h-1zM431.5 602.6h1v1h-1zM437.5 597.0h1v1h-1zM432.8 588.2h1v1h-1zM434.6 588.8h1v1h-1zM443.9 610.9h1v1h-1zM433.7 604.5h1v1h-1zM445.6 604.9h1v1h-1zM436.8 585.8h1v1h-1zM434.1 604.2h1v1h-1zM436.0 607.4h1v1h-1zM431.6 613.8h1v1h-1zM442.7 599.3h1v1h-1zM450.3 595.7h1v1h-1zM435.2 591.2h1v1h-1zM460.3 612.3h1v1h-1zM444.7 597.9h1v1h-1zM467.2 604.9h1v1h-1zM434.2 591.9h1v1h-1zM432.2 598.4h1v1h-1zM436.9 612.8h1v1h-1zM436.7 603.8h1v1h-1zM406.3 604.9h1v1h-1zM395.4 603.3h1v1h-1zM405.6 606.1h1v1h-1zM411.6 605.3h1v1h-1zM393.3 604.1h1v1h-1zM403.9 606.3h1v1h-1zM409.0 597.3h1v1h-1zM408.0 597.4h1v1h-1zM391.1 603.4h1v1h-1zM402.0 607.1h1v1h-1zM403.3 607.2h1v1h-1zM406.2 600.1h1v1h-1zM405.4 604.3h1v1h-1zM398.5 607.5h1v1h-1zM401.5 588.6h1v1h-1zM408.4 605.1h1v1h-1zM411.7 605.9h1v1h-1zM405.4 599.5h1v1h-1zM420.9 603.8h1v1h-1zM408.8 583.2h1v1h-1zM415.0 599.2h1v1h-1zM410.2 603.1h1v1h-1zM403.6 604.9h1v1h-1zM416.9 589.5h1v1h-1zM402.6 587.1h1v1h-1zM391.6 606.4h1v1h-1zM406.6 604.5h1v1h-1zM401.9 575.4h1v1h-1zM395.1 605.8h1v1h-1zM397.7 597.9h1v1h-1zM397.8 607.7h1v1h-1zM407.7 603.4h1v1h-1zM398.0 601.8h1v1h-1zM411.2 600.9h1v1h-1zM410.3 600.6h1v1h-1zM416.9 578.0h1v1h-1zM401.0 604.0h1v1h-1zM418.7 604.4h1v1h-1zM413.3 597.5h1v1h-1zM412.3 579.2h1v1h-1zM416.7 606.2h1v1h-1zM410.2 601.9h1v1h-1zM408.4 603.7h1v1h-1zM399.5 595.8h1v1h-1zM407.4 605.3h1v1h-1zM398.3 604.3h1v1h-1zM396.0 601.5h1v1h-1zM394.4 607.1h1v1h-1zM392.5 606.7h1v1h-1zM412.9 606.6h1v1h-1zM404.8 595.0h1v1h-1zM405.7 606.1h1v1h-1zM418.1 590.2h1v1h-1zM392.1 605.2h1v1h-1zM406.6 594.0h1v1h-1zM402.9 596.9h1v1h-1zM398.4 596.9h1v1h-1zM400.8 604.2h1v1h-1zM414.6 591.8h1v1h-1zM416.9 600.5h1v1h-1zM403.8 597.2h1v1h-1zM410.3 592.4h1v1h-1zM416.0 606.5h1v1h-1zM402.4 598.2h1v1h-1zM397.7 605.9h1v1h-1zM390.8 600.1h1v1h-1zM420.5 577.5h1v1h-1zM394.6 597.7h1v1h-1zM403.8 599.1h1v1h-1zM403.0 584.5h1v1h-1zM458.0 600.0h1v1h-1zM451.0 599.1h1v1h-1zM434.1 596.7h1v1h-1zM436.1 596.0h1v1h-1zM433.7 591.6h1v1h-1zM445.2 595.2h1v1h-1zM440.8 582.1h1v1h-1zM454.2 596.7h1v1h-1zM442.9 589.6h1v1h-1zM442.8 587.0h1v1h-1zM446.8 582.1h1v1h-1zM436.7 598.3h1v1h-1zM435.7 569.6h1v1h-1zM439.4 592.9h1v1h-1zM436.1 596.1h1v1h-1zM433.5 591.0h1v1h-1zM436.6 589.3h1v1h-1zM439.9 597.6h1v1h-1zM445.2 595.3h1v1h-1zM439.6 599.9h1v1h-1zM434.6 575.1h1v1h-1zM440.8 599.6h1v1h-1zM437.6 593.0h1v1h-1zM458.2 598.0h1v1h-1zM454.9 593.0h1v1h-1zM443.5 581.7h1v1h-1zM443.0 599.9h1v1h-1zM446.9 588.3h1v1h-1zM448.7 596.8h1v1h-1zM456.7 577.7h1v1h-1zM458.1 593.8h1v1h-1zM454.0 585.8h1v1h-1zM437.5 600.2h1v1h-1zM437.3 599.1h1v1h-1zM434.9 595.5h1v1h-1zM452.0 596.3h1v1h-1zM446.0 600.4h1v1h-1zM438.3 564.0h1v1h-1zM388.0 569.1h1v1h-1zM408.8 572.7h1v1h-1zM391.3 577.7h1v1h-1zM421.8 570.6h1v1h-1zM415.6 580.6h1v1h-1zM402.0 583.4h1v1h-1zM370.9 586.3h1v1h-1zM384.5 597.7h1v1h-1zM396.2 592.0h1v1h-1zM450.3 545.7h1v1h-1zM455.5 532.5h1v1h-1zM446.6 549.9h1v1h-1zM437.9 560.6h1v1h-1zM444.7 569.1h1v1h-1zM452.4 566.3h1v1h-1zM458.2 572.0h1v1h-1zM440.8 576.3h1v1h-1zM472.8 602.8h1v1h-1zM465.0 604.1h1v1h-1zM486.6 580.6h1v1h-1zM464.1 583.4h1v1h-1zM469.9 594.8h1v1h-1zM361.2 609.1h1v1h-1zM372.9 613.4h1v1h-1zM367.1 611.2h1v1h-1zM378.7 606.2h1v1h-1zM382.6 604.1h1v1h-1zM388.4 611.9h1v1h-1zM369.0 602.7h1v1h-1zM376.8 609.8h1v1h-1z"/>
<line x1="427.7" y1="517.7" x2="427.7" y2="618.9" stroke="#bdbdbd" stroke-width="1"/>
<line x1="343.3" y1="517.7" x2="512" y2="517.7" stroke="#a8a8a8" stroke-width="0.9"/>
<line x1="343.3" y1="517.7" x2="343.3" y2="618.9" stroke="#a0a0a0" stroke-width="0.9"/>
<line x1="343.3" y1="618.9" x2="512" y2="618.9" stroke="#909090" stroke-width="1.0"/>
<line x1="350.1" y1="618.9" x2="350.1" y2="620.7" stroke="#444" stroke-width="0.7"/>
<text x="348.9" y="629.4" font-size="8.4" text-anchor="middle" fill="#4d4d4d" font-weight="normal" font-family="'DejaVu Sans', sans-serif" stroke="#4d4d4d" stroke-width="0.2">-4</text>
<line x1="388.9" y1="618.9" x2="388.9" y2="620.7" stroke="#444" stroke-width="0.7"/>
<text x="387.7" y="629.4" font-size="8.4" text-anchor="middle" fill="#4d4d4d" font-weight="normal" font-family="'DejaVu Sans', sans-serif" stroke="#4d4d4d" stroke-width="0.2">-2</text>
<line x1="427.7" y1="618.9" x2="427.7" y2="620.7" stroke="#444" stroke-width="0.7"/>
<text x="427.7" y="629.4" font-size="8.4" text-anchor="middle" fill="#4d4d4d" font-weight="normal" font-family="'DejaVu Sans', sans-serif" stroke="#4d4d4d" stroke-width="0.2">0</text>
<line x1="466.5" y1="618.9" x2="466.5" y2="620.7" stroke="#444" stroke-width="0.7"/>
<text x="466.5" y="629.4" font-size="8.4" text-anchor="middle" fill="#4d4d4d" font-weight="normal" font-family="'DejaVu Sans', sans-serif" stroke="#4d4d4d" stroke-width="0.2">2</text>
<line x1="505.3" y1="618.9" x2="505.3" y2="620.7" stroke="#444" stroke-width="0.7"/>
<text x="505.3" y="629.4" font-size="8.4" text-anchor="middle" fill="#4d4d4d" font-weight="normal" font-family="'DejaVu Sans', sans-serif" stroke="#4d4d4d" stroke-width="0.2">4</text>
<line x1="341.5" y1="615.3" x2="343.3" y2="615.3" stroke="#444" stroke-width="0.7"/>
<text x="340.9" y="618.3" font-size="8.4" text-anchor="end" fill="#4d4d4d" font-weight="normal" font-family="'DejaVu Sans', sans-serif" stroke="#4d4d4d" stroke-width="0.2">0</text>
<line x1="341.5" y1="586.76" x2="343.3" y2="586.76" stroke="#444" stroke-width="0.7"/>
<text x="340.9" y="589.76" font-size="8.4" text-anchor="end" fill="#4d4d4d" font-weight="normal" font-family="'DejaVu Sans', sans-serif" stroke="#4d4d4d" stroke-width="0.2">20</text>
<line x1="341.5" y1="558.22" x2="343.3" y2="558.22" stroke="#444" stroke-width="0.7"/>
<text x="340.9" y="561.22" font-size="8.4" text-anchor="end" fill="#4d4d4d" font-weight="normal" font-family="'DejaVu Sans', sans-serif" stroke="#4d4d4d" stroke-width="0.2">40</text>
<line x1="341.5" y1="529.68" x2="343.3" y2="529.68" stroke="#444" stroke-width="0.7"/>
<text x="340.9" y="532.68" font-size="8.4" text-anchor="end" fill="#4d4d4d" font-weight="normal" font-family="'DejaVu Sans', sans-serif" stroke="#4d4d4d" stroke-width="0.2">60</text>
<text x="395.8" y="641.2" font-size="7.8" fill="#222" stroke="#222" stroke-width="0.35" font-family="'DejaVu Sans', sans-serif">Log<tspan font-size="6.2" dy="1.6">2</tspan><tspan dy="-1.6"> fold change</tspan></text>
<text transform="translate(323.4,567.9) rotate(-90)" font-size="7.4" text-anchor="middle" fill="#222" stroke="#222" stroke-width="0.4" font-family="'DejaVu Sans', sans-serif">− Log<tspan font-size="5.6" dy="0.9">10</tspan><tspan dy="-0.9" font-style="italic"> P</tspan></text>
<text x="461.3" y="528.6" font-size="5.4" text-anchor="start" fill="#2a2a2a" font-weight="normal" font-family="'DejaVu Sans', sans-serif" stroke="#2a2a2a" stroke-width="0.18">TNFRSF9</text>
<text x="449" y="539.2" font-size="5.4" text-anchor="start" fill="#2a2a2a" font-weight="normal" font-family="'DejaVu Sans', sans-serif" stroke="#2a2a2a" stroke-width="0.18">IL1R2</text>
<text x="461" y="565" font-size="5.4" text-anchor="start" fill="#2a2a2a" font-weight="normal" font-family="'DejaVu Sans', sans-serif" stroke="#2a2a2a" stroke-width="0.18">CD177</text>
<text x="432.8" y="572.5" font-size="5.4" text-anchor="start" fill="#2a2a2a" font-weight="normal" font-family="'DejaVu Sans', sans-serif" stroke="#2a2a2a" stroke-width="0.18">LAYN</text>
<text x="448.5" y="571.5" font-size="5.4" text-anchor="start" fill="#2a2a2a" font-weight="normal" font-family="'DejaVu Sans', sans-serif" stroke="#2a2a2a" stroke-width="0.18">TNFRSF4</text>
<text x="439.2" y="577.8" font-size="5.4" text-anchor="start" fill="#2a2a2a" font-weight="normal" font-family="'DejaVu Sans', sans-serif" stroke="#2a2a2a" stroke-width="0.18">IKZF2</text>
<text x="427.2" y="584.3" font-size="5.4" text-anchor="start" fill="#2a2a2a" font-weight="normal" font-family="'DejaVu Sans', sans-serif" stroke="#2a2a2a" stroke-width="0.18">CTLA4</text>
<text x="484.2" y="584.5" font-size="5.4" text-anchor="start" fill="#2a2a2a" font-weight="normal" font-family="'DejaVu Sans', sans-serif" stroke="#2a2a2a" stroke-width="0.18">CCL22</text>
<text x="448.5" y="591.8" font-size="5.4" text-anchor="start" fill="#2a2a2a" font-weight="normal" font-family="'DejaVu Sans', sans-serif" stroke="#2a2a2a" stroke-width="0.18">TNFRSF8</text>
<text x="443.6" y="607.2" font-size="5.4" text-anchor="start" fill="#2a2a2a" font-weight="normal" font-family="'DejaVu Sans', sans-serif" stroke="#2a2a2a" stroke-width="0.18">SECTM1</text>
<text x="364.5" y="587.3" font-size="5.4" text-anchor="start" fill="#2a2a2a" font-weight="normal" font-family="'DejaVu Sans', sans-serif" stroke="#2a2a2a" stroke-width="0.18">CD40LG</text>
<text x="387" y="596" font-size="5.4" text-anchor="start" fill="#2a2a2a" font-weight="normal" font-family="'DejaVu Sans', sans-serif" stroke="#2a2a2a" stroke-width="0.18">TCF7</text>
<text x="394.5" y="601.5" font-size="5.4" text-anchor="start" fill="#2a2a2a" font-weight="normal" font-family="'DejaVu Sans', sans-serif" stroke="#2a2a2a" stroke-width="0.18">CCR7</text>
<text x="370.5" y="606.8" font-size="5.4" text-anchor="start" fill="#2a2a2a" font-weight="normal" font-family="'DejaVu Sans', sans-serif" stroke="#2a2a2a" stroke-width="0.18">GZMA</text>
<text x="392" y="611" font-size="5.4" text-anchor="start" fill="#2a2a2a" font-weight="normal" font-family="'DejaVu Sans', sans-serif" stroke="#2a2a2a" stroke-width="0.18">PTGDR</text>
<text x="352" y="612.3" font-size="5.4" text-anchor="start" fill="#2a2a2a" font-weight="normal" font-family="'DejaVu Sans', sans-serif" stroke="#2a2a2a" stroke-width="0.18">GZMK</text>
<text x="370" y="618.5" font-size="5.4" text-anchor="start" fill="#2a2a2a" font-weight="normal" font-family="'DejaVu Sans', sans-serif" stroke="#2a2a2a" stroke-width="0.18">CRTAM</text>
</svg>
</body></html>
